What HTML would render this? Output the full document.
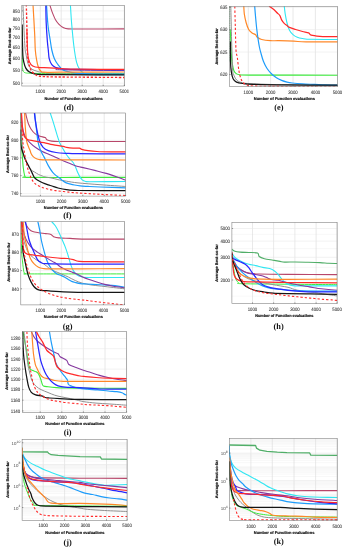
<!DOCTYPE html>
<html><head><meta charset="utf-8"><title>Convergence curves</title>
<style>
html,body{margin:0;padding:0;background:#fff;}
body{width:346px;height:550px;overflow:hidden;}
svg{display:block;}
text{text-rendering:geometricPrecision;}
.t{font-family:"Liberation Sans",Arial,sans-serif;font-size:4.9px;fill:#3a3a3a;stroke:#3a3a3a;stroke-width:0.08px;}
.s{font-family:"Liberation Sans",Arial,sans-serif;font-size:3.4px;fill:#444;}
.t2{font-family:"Liberation Sans",Arial,sans-serif;font-size:4.4px;fill:#444;}
.l{font-family:"Liberation Sans",Arial,sans-serif;font-size:3.95px;font-weight:bold;fill:#111;stroke:#111;stroke-width:0.16px;}
.cap{font-family:"Liberation Serif","DejaVu Serif",serif;font-size:8.3px;font-weight:bold;fill:#111;}
</style></head><body>
<svg width="346" height="550" viewBox="0 0 346 550">
<rect width="346" height="550" fill="#fff"/>
<clipPath id="cd"><rect x="21.8" y="5.5" width="102.5" height="80.5"/></clipPath>
<rect x="21.8" y="5.5" width="102.5" height="80.5" fill="#fff"/>
<line x1="40.30" x2="40.30" y1="5.5" y2="86" stroke="#d6d6d6" stroke-width="0.55"/>
<line x1="61.20" x2="61.20" y1="5.5" y2="86" stroke="#d6d6d6" stroke-width="0.55"/>
<line x1="82.20" x2="82.20" y1="5.5" y2="86" stroke="#d6d6d6" stroke-width="0.55"/>
<line x1="103.20" x2="103.20" y1="5.5" y2="86" stroke="#d6d6d6" stroke-width="0.55"/>
<line x1="124.30" x2="124.30" y1="5.5" y2="86" stroke="#d6d6d6" stroke-width="0.55"/>
<line x1="21.8" x2="124.3" y1="10.90" y2="10.90" stroke="#e8e8e8" stroke-width="0.55"/>
<line x1="21.8" x2="124.3" y1="19.00" y2="19.00" stroke="#e8e8e8" stroke-width="0.55"/>
<line x1="21.8" x2="124.3" y1="27.80" y2="27.80" stroke="#e8e8e8" stroke-width="0.55"/>
<line x1="21.8" x2="124.3" y1="37.10" y2="37.10" stroke="#e8e8e8" stroke-width="0.55"/>
<line x1="21.8" x2="124.3" y1="47.30" y2="47.30" stroke="#e8e8e8" stroke-width="0.55"/>
<line x1="21.8" x2="124.3" y1="58.40" y2="58.40" stroke="#e8e8e8" stroke-width="0.55"/>
<line x1="21.8" x2="124.3" y1="70.30" y2="70.30" stroke="#e8e8e8" stroke-width="0.55"/>
<line x1="21.8" x2="124.3" y1="83.20" y2="83.20" stroke="#e8e8e8" stroke-width="0.55"/>
<g clip-path="url(#cd)" fill="none" stroke-linejoin="round" stroke-linecap="round">
<path d="M22.20 28.00 C22.22 33.12 22.24 53.60 22.30 60.00 C22.36 66.40 22.42 66.16 22.60 68.00 C22.78 69.84 23.02 70.76 23.40 71.50 C23.78 72.24 23.94 72.33 25.00 72.60 C26.06 72.87 24.40 73.04 30.00 73.20 C35.60 73.36 44.91 73.54 60.00 73.60 C75.09 73.66 114.01 73.60 124.30 73.60" stroke="#3CEA3C" stroke-width="1.0"/>
<path d="M23.00 5.50 C23.13 8.62 23.48 18.20 23.80 25.00 C24.12 31.80 24.60 43.04 25.00 48.00 C25.40 52.96 25.90 53.79 26.30 56.00 C26.70 58.21 27.04 60.14 27.50 61.80 C27.96 63.46 28.46 65.20 29.20 66.40 C29.94 67.60 30.98 68.56 32.10 69.30 C33.22 70.04 34.81 70.54 36.20 71.00 C37.59 71.46 38.59 71.82 40.80 72.20 C43.01 72.58 46.93 73.11 50.00 73.40 C53.07 73.69 48.11 73.87 60.00 74.00 C71.89 74.13 114.01 74.17 124.30 74.20" stroke="#909090" stroke-width="1.0"/>
<path d="M49.70 4.60 C50.07 5.72 51.07 9.18 52.00 11.60 C52.93 14.02 54.38 17.67 55.50 19.70 C56.62 21.73 57.70 23.02 59.00 24.30 C60.30 25.58 62.13 26.96 63.60 27.70 C65.07 28.44 65.58 28.69 68.20 28.90 C70.82 29.11 71.02 29.00 80.00 29.00 C88.98 29.00 117.21 28.92 124.30 28.90" stroke="#B8466A" stroke-width="1.1"/>
<path d="M70.40 4.60 C70.59 7.56 71.04 16.44 71.60 23.10 C72.16 29.76 73.10 39.91 73.90 46.20 C74.70 52.49 75.67 58.69 76.60 62.40 C77.53 66.11 78.66 67.74 79.70 69.40 C80.74 71.06 81.82 72.02 83.10 72.80 C84.38 73.58 85.00 74.01 87.70 74.30 C90.40 74.59 94.14 74.55 100.00 74.60 C105.86 74.65 120.41 74.60 124.30 74.60" stroke="#30E6F2" stroke-width="1.1"/>
<path d="M56.00 69.60 C59.84 69.70 69.07 70.04 80.00 70.20 C90.93 70.36 117.21 70.54 124.30 70.60" stroke="#85389E" stroke-width="1.0"/>
<path d="M46.50 4.60 C46.66 7.06 47.18 16.02 47.50 20.00 C47.82 23.98 48.07 26.30 48.50 29.50 C48.93 32.70 49.67 36.72 50.20 40.00 C50.73 43.28 51.13 47.01 51.80 50.00 C52.47 52.99 53.30 56.20 54.40 58.70 C55.50 61.20 57.32 63.81 58.70 65.60 C60.08 67.39 61.19 68.84 63.00 69.90 C64.81 70.96 67.60 71.64 70.00 72.20 C72.40 72.76 74.00 73.11 78.00 73.40 C82.00 73.69 87.59 73.87 95.00 74.00 C102.41 74.13 119.61 74.17 124.30 74.20" stroke="#1E9CFA" stroke-width="1.2"/>
<path d="M45.80 4.60 C45.86 7.54 45.94 17.08 46.20 23.00 C46.46 28.92 47.06 37.28 47.40 41.60 C47.74 45.92 48.01 47.26 48.30 50.00 C48.59 52.74 48.64 56.35 49.20 58.70 C49.76 61.05 50.82 63.32 51.80 64.70 C52.78 66.08 53.78 66.66 55.30 67.30 C56.82 67.94 58.15 68.36 61.30 68.70 C64.45 69.04 64.92 69.22 75.00 69.40 C85.08 69.58 116.41 69.74 124.30 69.80" stroke="#2828FF" stroke-width="1.25"/>
<path d="M33.00 4.60 C33.27 9.42 34.33 27.44 34.70 34.70 C35.07 41.96 34.98 45.89 35.30 50.00 C35.62 54.11 36.20 57.63 36.70 60.40 C37.20 63.17 37.79 65.64 38.40 67.30 C39.01 68.96 39.60 70.02 40.50 70.80 C41.40 71.58 40.88 71.98 44.00 72.20 C47.12 72.42 47.15 72.23 60.00 72.20 C72.85 72.17 114.01 72.03 124.30 72.00" stroke="#FF8828" stroke-width="1.2"/>
<path d="M26.90 30.00 C27.00 33.20 27.26 45.41 27.50 50.00 C27.74 54.59 27.84 56.35 28.40 58.70 C28.96 61.05 29.90 63.37 31.00 64.70 C32.10 66.03 33.22 66.52 35.30 67.00 C37.38 67.48 39.84 67.43 44.00 67.70 C48.16 67.97 55.86 68.46 61.30 68.70 C66.74 68.94 67.92 69.09 78.00 69.20 C88.08 69.31 116.89 69.37 124.30 69.40" stroke="#FF2A2A" stroke-width="1.25"/>
<path d="M22.20 25.00 C22.23 27.40 22.29 35.04 22.40 40.00 C22.51 44.96 22.64 52.34 22.90 56.00 C23.16 59.66 23.54 60.96 24.00 62.90 C24.46 64.84 25.05 66.71 25.80 68.10 C26.55 69.49 27.60 70.77 28.70 71.60 C29.80 72.43 31.13 72.87 32.70 73.30 C34.27 73.73 34.13 74.08 38.50 74.30 C42.87 74.52 46.27 74.60 60.00 74.70 C73.73 74.80 114.01 74.87 124.30 74.90" stroke="#141414" stroke-width="1.25"/>
<path d="M26.30 4.60 C26.40 8.30 26.74 20.44 26.90 27.70 C27.06 34.96 27.09 44.77 27.30 50.00 C27.51 55.23 27.83 57.76 28.20 60.40 C28.57 63.04 29.06 64.80 29.60 66.50 C30.14 68.20 30.74 69.72 31.60 71.00 C32.46 72.28 33.90 73.72 35.00 74.50 C36.10 75.28 37.20 75.56 38.50 75.90 C39.80 76.24 39.66 76.42 43.10 76.60 C46.54 76.78 47.01 76.86 60.00 77.00 C72.99 77.14 114.01 77.42 124.30 77.50" stroke="#FF2A2A" stroke-width="1.35" stroke-dasharray="2.3 1.7" stroke-linecap="butt"/>
</g>
<rect x="21.8" y="5.5" width="102.5" height="80.5" fill="none" stroke="#777" stroke-width="0.55"/>
<line x1="40.30" x2="40.30" y1="86" y2="84.8" stroke="#444" stroke-width="0.5"/>
<text x="35.54" y="93.25" class="t" textLength="9.52" lengthAdjust="spacingAndGlyphs">1000</text>
<line x1="61.20" x2="61.20" y1="86" y2="84.8" stroke="#444" stroke-width="0.5"/>
<text x="56.44" y="93.25" class="t" textLength="9.52" lengthAdjust="spacingAndGlyphs">2000</text>
<line x1="82.20" x2="82.20" y1="86" y2="84.8" stroke="#444" stroke-width="0.5"/>
<text x="77.44" y="93.25" class="t" textLength="9.52" lengthAdjust="spacingAndGlyphs">3000</text>
<line x1="103.20" x2="103.20" y1="86" y2="84.8" stroke="#444" stroke-width="0.5"/>
<text x="98.44" y="93.25" class="t" textLength="9.52" lengthAdjust="spacingAndGlyphs">4000</text>
<line x1="124.30" x2="124.30" y1="86" y2="84.8" stroke="#444" stroke-width="0.5"/>
<text x="119.54" y="93.25" class="t" textLength="9.52" lengthAdjust="spacingAndGlyphs">5000</text>
<line x1="21.8" x2="23.0" y1="10.90" y2="10.90" stroke="#444" stroke-width="0.5"/>
<text x="12.66" y="12.65" class="t" textLength="7.14" lengthAdjust="spacingAndGlyphs">850</text>
<line x1="21.8" x2="23.0" y1="19.00" y2="19.00" stroke="#444" stroke-width="0.5"/>
<text x="12.66" y="20.75" class="t" textLength="7.14" lengthAdjust="spacingAndGlyphs">800</text>
<line x1="21.8" x2="23.0" y1="27.80" y2="27.80" stroke="#444" stroke-width="0.5"/>
<text x="12.66" y="29.55" class="t" textLength="7.14" lengthAdjust="spacingAndGlyphs">750</text>
<line x1="21.8" x2="23.0" y1="37.10" y2="37.10" stroke="#444" stroke-width="0.5"/>
<text x="12.66" y="38.85" class="t" textLength="7.14" lengthAdjust="spacingAndGlyphs">700</text>
<line x1="21.8" x2="23.0" y1="47.30" y2="47.30" stroke="#444" stroke-width="0.5"/>
<text x="12.66" y="49.05" class="t" textLength="7.14" lengthAdjust="spacingAndGlyphs">650</text>
<line x1="21.8" x2="23.0" y1="58.40" y2="58.40" stroke="#444" stroke-width="0.5"/>
<text x="12.66" y="60.15" class="t" textLength="7.14" lengthAdjust="spacingAndGlyphs">600</text>
<line x1="21.8" x2="23.0" y1="70.30" y2="70.30" stroke="#444" stroke-width="0.5"/>
<text x="12.66" y="72.05" class="t" textLength="7.14" lengthAdjust="spacingAndGlyphs">550</text>
<line x1="21.8" x2="23.0" y1="83.20" y2="83.20" stroke="#444" stroke-width="0.5"/>
<text x="12.66" y="84.95" class="t" textLength="7.14" lengthAdjust="spacingAndGlyphs">500</text>
<text transform="translate(11.00 64.25) rotate(-90)" class="l" textLength="36.7" lengthAdjust="spacingAndGlyphs">Average Best-so-far</text>
<text x="44.45" y="99.85" class="l" textLength="58.3" lengthAdjust="spacingAndGlyphs">Number of Function evaluations</text>
<rect x="128.6" y="87.5" width="8" height="8" fill="#fff"/>
<text x="68.70" y="109.70" class="cap" text-anchor="middle">(d)</text>
<clipPath id="ce"><rect x="229.4" y="6.3" width="108.1" height="80.3"/></clipPath>
<rect x="229.4" y="6.3" width="108.1" height="80.3" fill="#fff"/>
<line x1="248.30" x2="248.30" y1="6.3" y2="86.6" stroke="#d6d6d6" stroke-width="0.55"/>
<line x1="270.60" x2="270.60" y1="6.3" y2="86.6" stroke="#d6d6d6" stroke-width="0.55"/>
<line x1="293.00" x2="293.00" y1="6.3" y2="86.6" stroke="#d6d6d6" stroke-width="0.55"/>
<line x1="315.40" x2="315.40" y1="6.3" y2="86.6" stroke="#d6d6d6" stroke-width="0.55"/>
<line x1="337.50" x2="337.50" y1="6.3" y2="86.6" stroke="#d6d6d6" stroke-width="0.55"/>
<line x1="229.4" x2="337.5" y1="7.40" y2="7.40" stroke="#e8e8e8" stroke-width="0.55"/>
<line x1="229.4" x2="337.5" y1="29.60" y2="29.60" stroke="#e8e8e8" stroke-width="0.55"/>
<line x1="229.4" x2="337.5" y1="52.00" y2="52.00" stroke="#e8e8e8" stroke-width="0.55"/>
<line x1="229.4" x2="337.5" y1="74.50" y2="74.50" stroke="#e8e8e8" stroke-width="0.55"/>
<g clip-path="url(#ce)" fill="none" stroke-linejoin="round" stroke-linecap="round">
<path d="M229.70 6.40 L229.80 62.00" stroke="#50AE68" stroke-width="0.9" stroke-dasharray="1.5 0.8" stroke-linecap="butt"/>
<path d="M230.30 30.00 C230.40 32.24 230.69 39.52 230.90 44.00 C231.11 48.48 231.34 54.66 231.60 58.00 C231.86 61.34 232.13 62.87 232.50 64.90 C232.87 66.93 233.31 69.31 233.90 70.70 C234.49 72.09 235.27 72.94 236.20 73.60 C237.13 74.26 237.49 74.56 239.70 74.80 C241.91 75.04 234.35 75.04 250.00 75.10 C265.65 75.16 323.50 75.18 337.50 75.20" stroke="#3CEA3C" stroke-width="1.1"/>
<path d="M230.80 6.40 C230.93 11.78 231.36 31.22 231.60 40.00 C231.84 48.78 232.11 56.20 232.30 61.30 C232.49 66.40 232.54 69.66 232.80 71.90 C233.06 74.14 233.44 74.20 233.90 75.30 C234.36 76.40 235.04 77.87 235.70 78.80 C236.36 79.73 236.99 80.49 238.00 81.10 C239.01 81.71 240.08 82.20 242.00 82.60 C243.92 83.00 242.80 83.23 250.00 83.60 C257.20 83.97 273.00 84.63 287.00 84.90 C301.00 85.17 329.42 85.24 337.50 85.30" stroke="#909090" stroke-width="1.0"/>
<path d="M284.30 6.40 C284.44 7.60 284.78 11.32 285.20 13.90 C285.62 16.48 286.21 19.88 286.90 22.50 C287.59 25.12 288.52 28.35 289.50 30.30 C290.48 32.25 291.75 33.58 293.00 34.70 C294.25 35.82 295.78 36.69 297.30 37.30 C298.82 37.91 300.28 38.18 302.50 38.50 C304.72 38.82 305.60 39.14 311.20 39.30 C316.80 39.46 333.29 39.47 337.50 39.50" stroke="#30E6F2" stroke-width="1.1"/>
<path d="M243.80 6.40 C243.88 7.60 243.93 11.32 244.30 13.90 C244.67 16.48 245.40 20.00 246.10 22.50 C246.80 25.00 247.74 27.84 248.70 29.50 C249.66 31.16 251.00 32.07 252.10 32.90 C253.20 33.73 254.77 34.00 255.60 34.70 C256.43 35.40 256.32 36.53 257.30 37.30 C258.28 38.07 259.62 38.96 261.70 39.50 C263.78 40.04 267.53 40.51 270.30 40.70 C273.07 40.89 275.22 40.62 279.00 40.70 C282.78 40.78 289.58 41.01 293.90 41.20 C298.22 41.39 299.02 41.79 306.00 41.90 C312.98 42.01 332.46 41.90 337.50 41.90" stroke="#FF8828" stroke-width="1.2"/>
<path d="M254.70 6.40 C254.84 8.14 255.26 13.60 255.60 17.30 C255.94 21.00 256.38 25.88 256.80 29.50 C257.22 33.12 257.78 37.10 258.20 39.90 C258.62 42.70 258.98 44.95 259.40 47.00 C259.82 49.05 260.16 50.41 260.80 52.70 C261.44 54.99 262.42 58.80 263.40 61.30 C264.38 63.80 265.65 66.35 266.90 68.30 C268.15 70.25 269.68 71.98 271.20 73.50 C272.72 75.02 274.74 76.70 276.40 77.80 C278.06 78.90 279.90 79.71 281.60 80.40 C283.30 81.09 285.32 81.68 287.00 82.10 C288.68 82.52 289.62 82.71 292.10 83.00 C294.58 83.29 298.88 83.68 302.50 83.90 C306.12 84.12 311.10 84.24 314.70 84.40 C318.30 84.56 321.35 84.79 325.00 84.90 C328.65 85.01 335.50 85.07 337.50 85.10" stroke="#1E9CFA" stroke-width="1.2"/>
<path d="M269.50 6.40 C270.19 6.90 272.55 8.44 273.80 9.50 C275.05 10.56 276.32 12.02 277.30 13.00 C278.28 13.98 279.21 14.50 279.90 15.60 C280.59 16.70 280.91 18.65 281.60 19.90 C282.29 21.15 283.34 22.49 284.20 23.40 C285.06 24.31 286.15 24.96 287.00 25.60 C287.85 26.24 288.12 26.78 289.50 27.40 C290.88 28.02 293.52 28.84 295.60 29.50 C297.68 30.16 300.42 30.96 302.50 31.50 C304.58 32.04 307.21 32.31 308.60 32.90 C309.99 33.49 309.39 34.64 311.20 35.20 C313.01 35.76 317.13 36.16 319.90 36.40 C322.67 36.64 325.68 36.65 328.50 36.70 C331.32 36.75 336.06 36.70 337.50 36.70" stroke="#FF2A2A" stroke-width="1.25"/>
<path d="M230.40 42.00 C230.42 45.09 230.36 56.55 230.50 61.30 C230.64 66.05 230.88 68.92 231.30 71.70 C231.72 74.48 232.27 77.04 233.10 78.70 C233.93 80.36 234.98 81.33 236.50 82.10 C238.02 82.87 239.96 83.15 242.60 83.50 C245.24 83.85 245.90 84.08 253.00 84.30 C260.10 84.52 273.48 84.77 287.00 84.90 C300.52 85.03 329.42 85.07 337.50 85.10" stroke="#141414" stroke-width="1.25"/>
<path d="M234.80 6.40 C234.88 9.54 235.11 19.04 235.30 26.00 C235.49 32.96 235.66 44.80 236.00 49.90 C236.34 55.00 236.95 54.68 237.40 57.90 C237.85 61.12 238.24 66.67 238.80 70.00 C239.36 73.33 240.15 76.62 240.90 78.70 C241.65 80.78 242.54 82.01 243.50 83.00 C244.46 83.99 245.38 84.42 246.90 84.90 C248.42 85.38 246.58 85.74 253.00 86.00 C259.42 86.26 273.48 86.37 287.00 86.50 C300.52 86.63 329.42 86.75 337.50 86.80" stroke="#FF2A2A" stroke-width="1.1" stroke-dasharray="2.3 2.0" stroke-linecap="butt"/>
</g>
<rect x="229.4" y="6.3" width="108.1" height="80.3" fill="none" stroke="#777" stroke-width="0.55"/>
<line x1="248.30" x2="248.30" y1="86.6" y2="85.39999999999999" stroke="#444" stroke-width="0.5"/>
<text x="243.54" y="94.15" class="t" textLength="9.52" lengthAdjust="spacingAndGlyphs">1000</text>
<line x1="270.60" x2="270.60" y1="86.6" y2="85.39999999999999" stroke="#444" stroke-width="0.5"/>
<text x="265.84" y="94.15" class="t" textLength="9.52" lengthAdjust="spacingAndGlyphs">2000</text>
<line x1="293.00" x2="293.00" y1="86.6" y2="85.39999999999999" stroke="#444" stroke-width="0.5"/>
<text x="288.24" y="94.15" class="t" textLength="9.52" lengthAdjust="spacingAndGlyphs">3000</text>
<line x1="315.40" x2="315.40" y1="86.6" y2="85.39999999999999" stroke="#444" stroke-width="0.5"/>
<text x="310.64" y="94.15" class="t" textLength="9.52" lengthAdjust="spacingAndGlyphs">4000</text>
<line x1="337.50" x2="337.50" y1="86.6" y2="85.39999999999999" stroke="#444" stroke-width="0.5"/>
<text x="332.74" y="94.15" class="t" textLength="9.52" lengthAdjust="spacingAndGlyphs">5000</text>
<line x1="229.4" x2="230.6" y1="7.40" y2="7.40" stroke="#444" stroke-width="0.5"/>
<text x="220.26" y="9.15" class="t" textLength="7.14" lengthAdjust="spacingAndGlyphs">635</text>
<line x1="229.4" x2="230.6" y1="29.60" y2="29.60" stroke="#444" stroke-width="0.5"/>
<text x="220.26" y="31.35" class="t" textLength="7.14" lengthAdjust="spacingAndGlyphs">630</text>
<line x1="229.4" x2="230.6" y1="52.00" y2="52.00" stroke="#444" stroke-width="0.5"/>
<text x="220.26" y="53.75" class="t" textLength="7.14" lengthAdjust="spacingAndGlyphs">625</text>
<line x1="229.4" x2="230.6" y1="74.50" y2="74.50" stroke="#444" stroke-width="0.5"/>
<text x="220.26" y="76.25" class="t" textLength="7.14" lengthAdjust="spacingAndGlyphs">620</text>
<text transform="translate(217.90 64.60) rotate(-90)" class="l" textLength="36.4" lengthAdjust="spacingAndGlyphs">Average Best-so-far</text>
<text x="253.75" y="100.15" class="l" textLength="61.3" lengthAdjust="spacingAndGlyphs">Number of Function evaluations</text>
<text x="278.90" y="109.70" class="cap" text-anchor="middle">(e)</text>
<clipPath id="cf"><rect x="20.4" y="113" width="105.19999999999999" height="83.1"/></clipPath>
<rect x="20.4" y="113" width="105.19999999999999" height="83.1" fill="#fff"/>
<line x1="40.40" x2="40.40" y1="113" y2="196.1" stroke="#d6d6d6" stroke-width="0.55"/>
<line x1="61.60" x2="61.60" y1="113" y2="196.1" stroke="#d6d6d6" stroke-width="0.55"/>
<line x1="82.80" x2="82.80" y1="113" y2="196.1" stroke="#d6d6d6" stroke-width="0.55"/>
<line x1="104.20" x2="104.20" y1="113" y2="196.1" stroke="#d6d6d6" stroke-width="0.55"/>
<line x1="125.60" x2="125.60" y1="113" y2="196.1" stroke="#d6d6d6" stroke-width="0.55"/>
<line x1="20.4" x2="125.6" y1="122.30" y2="122.30" stroke="#e8e8e8" stroke-width="0.55"/>
<line x1="20.4" x2="125.6" y1="140.40" y2="140.40" stroke="#e8e8e8" stroke-width="0.55"/>
<line x1="20.4" x2="125.6" y1="157.90" y2="157.90" stroke="#e8e8e8" stroke-width="0.55"/>
<line x1="20.4" x2="125.6" y1="175.60" y2="175.60" stroke="#e8e8e8" stroke-width="0.55"/>
<line x1="20.4" x2="125.6" y1="193.60" y2="193.60" stroke="#e8e8e8" stroke-width="0.55"/>
<g clip-path="url(#cf)" fill="none" stroke-linejoin="round" stroke-linecap="round">
<path d="M20.70 112.60 C20.78 116.98 21.02 134.02 21.20 140.00 C21.38 145.98 21.58 146.80 21.80 150.00 C22.02 153.20 22.36 157.12 22.60 160.00 C22.84 162.88 23.00 165.60 23.30 168.00 C23.60 170.40 24.18 173.59 24.50 175.00 C24.82 176.41 24.93 176.42 25.30 176.80 C25.67 177.18 18.37 177.30 26.80 177.40 C35.23 177.50 62.14 177.40 78.00 177.40 C93.86 177.40 118.24 177.40 125.90 177.40" stroke="#3CEA3C" stroke-width="1.1"/>
<path d="M21.00 112.60 C21.16 116.98 21.58 133.18 22.00 140.00 C22.42 146.82 22.77 151.38 23.60 155.20 C24.43 159.02 26.10 161.63 27.20 163.90 C28.30 166.17 29.33 168.10 30.50 169.40 C31.67 170.70 33.20 171.18 34.50 172.00 C35.80 172.82 37.30 173.84 38.60 174.50 C39.90 175.16 41.58 175.72 42.60 176.10 C43.62 176.48 43.50 176.58 45.00 176.90 C46.50 177.22 49.94 177.67 52.00 178.10 C54.06 178.53 55.58 179.10 57.90 179.60 C60.22 180.10 63.28 180.67 66.50 181.20 C69.72 181.73 72.64 182.34 78.00 182.90 C83.36 183.46 92.34 184.12 100.00 184.70 C107.66 185.28 121.76 186.21 125.90 186.50" stroke="#909090" stroke-width="1.0"/>
<path d="M25.50 112.60 C25.69 113.45 26.24 116.12 26.70 117.90 C27.16 119.68 27.66 121.84 28.40 123.70 C29.14 125.56 30.20 127.87 31.30 129.50 C32.40 131.13 33.91 132.83 35.30 133.90 C36.69 134.97 38.42 135.61 40.00 136.20 C41.58 136.79 44.10 137.02 45.20 137.60 C46.30 138.18 45.89 139.24 46.90 139.80 C47.91 140.36 49.74 140.83 51.50 141.10 C53.26 141.37 53.66 141.44 57.90 141.50 C62.14 141.56 67.12 141.50 78.00 141.50 C88.88 141.50 118.24 141.50 125.90 141.50" stroke="#B8466A" stroke-width="1.1"/>
<path d="M50.10 112.60 C50.52 113.85 51.87 117.78 52.70 120.40 C53.53 123.02 54.47 126.23 55.30 129.00 C56.13 131.77 57.21 135.54 57.90 137.70 C58.59 139.86 59.07 141.20 59.60 142.50 C60.13 143.80 60.56 144.62 61.20 145.80 C61.84 146.98 62.75 148.48 63.60 149.90 C64.45 151.32 65.52 153.28 66.50 154.70 C67.48 156.12 68.61 157.50 69.70 158.80 C70.79 160.10 72.39 161.52 73.30 162.80 C74.21 164.08 74.74 165.38 75.40 166.80 C76.06 168.22 76.70 170.13 77.40 171.70 C78.10 173.27 79.03 175.30 79.80 176.60 C80.57 177.90 81.35 179.05 82.20 179.80 C83.05 180.55 83.85 181.00 85.10 181.30 C86.35 181.60 83.47 181.67 90.00 181.70 C96.53 181.73 120.16 181.53 125.90 181.50" stroke="#30E6F2" stroke-width="1.1"/>
<path d="M21.40 112.60 C21.46 113.85 21.51 117.49 21.80 120.40 C22.09 123.31 22.56 128.03 23.20 130.80 C23.84 133.57 24.70 135.76 25.80 137.70 C26.90 139.64 28.58 141.36 30.10 142.90 C31.62 144.44 33.35 145.91 35.30 147.30 C37.25 148.69 40.08 150.45 42.30 151.60 C44.52 152.75 46.99 153.56 49.20 154.50 C51.41 155.44 53.88 156.51 56.10 157.50 C58.32 158.49 60.88 159.74 63.10 160.70 C65.32 161.66 67.62 162.57 70.00 163.50 C72.38 164.43 75.90 165.84 78.00 166.50 C80.10 167.16 80.43 166.98 83.10 167.60 C85.77 168.22 91.00 169.47 94.70 170.40 C98.40 171.33 102.50 172.30 106.20 173.40 C109.90 174.50 114.65 176.20 117.80 177.30 C120.95 178.40 124.60 179.82 125.90 180.30" stroke="#85389E" stroke-width="1.1"/>
<path d="M34.60 112.60 C34.86 114.95 35.67 122.72 36.20 127.30 C36.73 131.88 37.34 137.87 37.90 141.20 C38.46 144.53 39.00 146.05 39.70 148.10 C40.40 150.15 41.61 152.59 42.30 154.00 C42.99 155.41 43.04 155.04 44.00 156.90 C44.96 158.76 46.91 163.14 48.30 165.60 C49.69 168.06 51.31 170.59 52.70 172.30 C54.09 174.01 55.83 175.36 57.00 176.30 C58.17 177.24 59.14 177.51 60.00 178.20 C60.86 178.89 61.49 179.90 62.40 180.60 C63.31 181.30 64.53 182.09 65.70 182.60 C66.87 183.11 68.28 183.42 69.70 183.80 C71.12 184.18 72.92 184.66 74.60 185.00 C76.28 185.34 78.06 185.68 80.20 185.90 C82.34 186.12 84.83 186.22 88.00 186.40 C91.17 186.58 93.94 186.76 100.00 187.00 C106.06 187.24 121.76 187.76 125.90 187.90" stroke="#1E9CFA" stroke-width="1.2"/>
<path d="M34.40 112.60 C34.54 113.85 34.87 117.49 35.30 120.40 C35.73 123.31 36.40 127.47 37.10 130.80 C37.80 134.13 38.74 138.56 39.70 141.20 C40.66 143.84 41.72 145.78 43.10 147.30 C44.48 148.82 46.22 149.87 48.30 150.70 C50.38 151.53 53.19 152.08 56.10 152.50 C59.01 152.92 63.00 153.11 66.50 153.30 C70.00 153.49 68.50 153.62 78.00 153.70 C87.50 153.78 118.24 153.78 125.90 153.80" stroke="#2828FF" stroke-width="1.25"/>
<path d="M24.60 112.60 C24.71 114.95 24.96 122.72 25.30 127.30 C25.64 131.88 26.17 138.05 26.70 141.20 C27.23 144.35 28.07 145.54 28.60 147.00 C29.13 148.46 29.58 149.21 30.00 150.30 C30.42 151.39 30.69 152.79 31.20 153.80 C31.71 154.81 32.35 155.80 33.20 156.60 C34.05 157.40 35.46 158.32 36.50 158.80 C37.54 159.28 38.18 159.42 39.70 159.60 C41.22 159.78 39.87 159.85 46.00 159.90 C52.13 159.95 65.22 159.88 78.00 159.90 C90.78 159.92 118.24 159.98 125.90 160.00" stroke="#FF8828" stroke-width="1.2"/>
<path d="M21.50 112.60 C21.63 114.95 21.88 123.56 22.30 127.30 C22.72 131.04 23.27 134.05 24.10 136.00 C24.93 137.95 25.98 138.73 27.50 139.50 C29.02 140.27 30.96 140.30 33.60 140.80 C36.24 141.30 40.94 141.98 44.00 142.60 C47.06 143.22 49.64 144.11 52.70 144.70 C55.76 145.29 60.89 145.87 63.10 146.30 C65.31 146.73 64.92 147.10 66.50 147.40 C68.08 147.70 70.94 148.07 73.00 148.20 C75.06 148.33 77.99 148.01 79.40 148.20 C80.81 148.39 80.42 149.02 81.80 149.40 C83.18 149.78 85.57 150.26 88.00 150.60 C90.43 150.94 93.34 151.29 97.00 151.50 C100.66 151.71 106.28 151.84 110.90 151.90 C115.52 151.96 123.50 151.90 125.90 151.90" stroke="#FF2A2A" stroke-width="1.25"/>
<path d="M20.60 130.00 C20.63 132.35 20.38 140.94 20.80 144.70 C21.22 148.46 22.40 150.99 23.20 153.50 C24.00 156.01 24.76 158.08 25.80 160.40 C26.84 162.72 28.69 166.00 29.70 168.00 C30.71 170.00 31.33 171.35 32.10 172.90 C32.87 174.45 33.59 176.52 34.50 177.70 C35.41 178.88 36.50 179.48 37.80 180.30 C39.10 181.12 40.92 182.06 42.60 182.80 C44.28 183.54 46.80 184.39 48.30 184.90 C49.80 185.41 50.45 185.50 52.00 186.00 C53.55 186.50 55.68 187.41 58.00 188.00 C60.32 188.59 63.30 189.30 66.50 189.70 C69.70 190.10 68.50 190.36 78.00 190.50 C87.50 190.64 118.24 190.58 125.90 190.60" stroke="#141414" stroke-width="1.25"/>
<path d="M21.80 125.00 C21.88 126.76 22.08 132.85 22.30 136.00 C22.52 139.15 22.91 142.46 23.20 144.70 C23.49 146.94 23.68 147.49 24.10 150.00 C24.52 152.51 25.11 157.07 25.80 160.40 C26.49 163.73 27.42 167.74 28.40 170.80 C29.38 173.86 30.80 177.42 31.90 179.50 C33.00 181.58 33.92 182.65 35.30 183.80 C36.68 184.95 38.55 185.87 40.50 186.70 C42.45 187.53 45.00 188.36 47.50 189.00 C50.00 189.64 53.06 190.24 56.10 190.70 C59.14 191.16 63.00 191.53 66.50 191.90 C70.00 192.27 72.64 192.62 78.00 193.00 C83.36 193.38 92.34 193.90 100.00 194.30 C107.66 194.70 121.76 195.31 125.90 195.50" stroke="#FF2A2A" stroke-width="1.1" stroke-dasharray="2.3 2.0" stroke-linecap="butt"/>
</g>
<rect x="20.4" y="113" width="105.19999999999999" height="83.1" fill="none" stroke="#777" stroke-width="0.55"/>
<line x1="40.40" x2="40.40" y1="196.1" y2="194.9" stroke="#444" stroke-width="0.5"/>
<text x="35.64" y="202.95" class="t" textLength="9.52" lengthAdjust="spacingAndGlyphs">1000</text>
<line x1="61.60" x2="61.60" y1="196.1" y2="194.9" stroke="#444" stroke-width="0.5"/>
<text x="56.84" y="202.95" class="t" textLength="9.52" lengthAdjust="spacingAndGlyphs">2000</text>
<line x1="82.80" x2="82.80" y1="196.1" y2="194.9" stroke="#444" stroke-width="0.5"/>
<text x="78.04" y="202.95" class="t" textLength="9.52" lengthAdjust="spacingAndGlyphs">3000</text>
<line x1="104.20" x2="104.20" y1="196.1" y2="194.9" stroke="#444" stroke-width="0.5"/>
<text x="99.44" y="202.95" class="t" textLength="9.52" lengthAdjust="spacingAndGlyphs">4000</text>
<line x1="125.60" x2="125.60" y1="196.1" y2="194.9" stroke="#444" stroke-width="0.5"/>
<text x="120.84" y="202.95" class="t" textLength="9.52" lengthAdjust="spacingAndGlyphs">5000</text>
<line x1="20.4" x2="21.599999999999998" y1="122.30" y2="122.30" stroke="#444" stroke-width="0.5"/>
<text x="11.26" y="124.05" class="t" textLength="7.14" lengthAdjust="spacingAndGlyphs">820</text>
<line x1="20.4" x2="21.599999999999998" y1="140.40" y2="140.40" stroke="#444" stroke-width="0.5"/>
<text x="11.26" y="142.15" class="t" textLength="7.14" lengthAdjust="spacingAndGlyphs">800</text>
<line x1="20.4" x2="21.599999999999998" y1="157.90" y2="157.90" stroke="#444" stroke-width="0.5"/>
<text x="11.26" y="159.65" class="t" textLength="7.14" lengthAdjust="spacingAndGlyphs">780</text>
<line x1="20.4" x2="21.599999999999998" y1="175.60" y2="175.60" stroke="#444" stroke-width="0.5"/>
<text x="11.26" y="177.35" class="t" textLength="7.14" lengthAdjust="spacingAndGlyphs">760</text>
<line x1="20.4" x2="21.599999999999998" y1="193.60" y2="193.60" stroke="#444" stroke-width="0.5"/>
<text x="11.26" y="195.35" class="t" textLength="7.14" lengthAdjust="spacingAndGlyphs">740</text>
<text transform="translate(9.40 173.05) rotate(-90)" class="l" textLength="38.1" lengthAdjust="spacingAndGlyphs">Average Best-so-far</text>
<text x="43.85" y="209.25" class="l" textLength="59.1" lengthAdjust="spacingAndGlyphs">Number of Function evaluations</text>
<text x="67.50" y="218.20" class="cap" text-anchor="middle">(f)</text>
<clipPath id="cg"><rect x="20.8" y="221.7" width="103.7" height="83.19999999999999"/></clipPath>
<rect x="20.8" y="221.7" width="103.7" height="83.19999999999999" fill="#fff"/>
<line x1="40.30" x2="40.30" y1="221.7" y2="304.9" stroke="#d6d6d6" stroke-width="0.55"/>
<line x1="61.30" x2="61.30" y1="221.7" y2="304.9" stroke="#d6d6d6" stroke-width="0.55"/>
<line x1="82.30" x2="82.30" y1="221.7" y2="304.9" stroke="#d6d6d6" stroke-width="0.55"/>
<line x1="103.40" x2="103.40" y1="221.7" y2="304.9" stroke="#d6d6d6" stroke-width="0.55"/>
<line x1="124.50" x2="124.50" y1="221.7" y2="304.9" stroke="#d6d6d6" stroke-width="0.55"/>
<line x1="20.8" x2="124.5" y1="233.80" y2="233.80" stroke="#e8e8e8" stroke-width="0.55"/>
<line x1="20.8" x2="124.5" y1="252.30" y2="252.30" stroke="#e8e8e8" stroke-width="0.55"/>
<line x1="20.8" x2="124.5" y1="270.60" y2="270.60" stroke="#e8e8e8" stroke-width="0.55"/>
<line x1="20.8" x2="124.5" y1="288.80" y2="288.80" stroke="#e8e8e8" stroke-width="0.55"/>
<g clip-path="url(#cg)" fill="none" stroke-linejoin="round" stroke-linecap="round">
<path d="M20.90 221.80 C21.01 226.31 21.33 243.57 21.60 250.00 C21.87 256.43 22.31 258.96 22.60 262.00 C22.89 265.04 23.18 267.35 23.40 269.00 C23.62 270.65 23.66 271.55 24.00 272.30 C24.34 273.05 24.86 273.44 25.50 273.70 C26.14 273.96 19.60 273.87 28.00 273.90 C36.40 273.93 62.56 273.90 78.00 273.90 C93.44 273.90 117.06 273.90 124.50 273.90" stroke="#3CEA3C" stroke-width="1.0"/>
<path d="M21.50 221.80 C21.74 224.07 22.46 232.45 23.00 236.00 C23.54 239.55 24.04 241.33 24.90 244.00 C25.76 246.67 27.01 250.48 28.40 252.70 C29.79 254.92 31.94 256.52 33.60 257.90 C35.26 259.28 37.14 260.31 38.80 261.30 C40.46 262.29 42.48 263.11 44.00 264.10 C45.52 265.09 46.91 266.49 48.30 267.50 C49.69 268.51 51.16 269.60 52.70 270.40 C54.24 271.20 56.24 271.81 57.90 272.50 C59.56 273.19 61.44 273.98 63.10 274.70 C64.76 275.42 66.36 276.07 68.30 277.00 C70.24 277.93 72.99 279.52 75.20 280.50 C77.41 281.48 79.60 282.40 82.10 283.10 C84.60 283.80 87.74 284.42 90.80 284.90 C93.86 285.38 97.60 285.68 101.20 286.10 C104.80 286.52 109.57 287.07 113.30 287.50 C117.03 287.93 122.71 288.59 124.50 288.80" stroke="#909090" stroke-width="1.0"/>
<path d="M24.90 221.80 C25.19 222.44 26.00 224.60 26.70 225.80 C27.40 227.00 28.34 228.39 29.30 229.30 C30.26 230.21 31.18 230.96 32.70 231.50 C34.22 232.04 36.72 232.36 38.80 232.70 C40.88 233.04 43.76 233.31 45.70 233.60 C47.64 233.89 49.51 233.94 50.90 234.50 C52.29 235.06 53.01 236.56 54.40 237.10 C55.79 237.64 57.10 237.69 59.60 237.90 C62.10 238.11 66.42 238.21 70.00 238.40 C73.58 238.59 73.28 238.99 82.00 239.10 C90.72 239.21 117.70 239.10 124.50 239.10" stroke="#B8466A" stroke-width="1.1"/>
<path d="M51.80 221.80 C52.36 222.44 54.20 224.18 55.30 225.80 C56.40 227.42 57.56 229.58 58.70 231.90 C59.84 234.22 61.36 237.90 62.40 240.30 C63.44 242.70 64.37 244.72 65.20 246.90 C66.03 249.08 66.94 251.85 67.60 253.90 C68.26 255.95 68.76 257.86 69.30 259.70 C69.84 261.54 70.36 263.66 71.00 265.40 C71.64 267.14 72.37 269.11 73.30 270.60 C74.23 272.09 75.50 273.71 76.80 274.70 C78.10 275.69 79.54 276.35 81.40 276.80 C83.26 277.25 81.50 277.39 88.40 277.50 C95.30 277.61 118.72 277.50 124.50 277.50" stroke="#30E6F2" stroke-width="1.1"/>
<path d="M37.90 221.80 C38.19 223.13 39.14 227.11 39.70 230.10 C40.26 233.09 40.71 237.17 41.40 240.50 C42.09 243.83 43.17 247.81 44.00 250.90 C44.83 253.99 45.77 257.48 46.60 259.80 C47.43 262.12 48.22 263.70 49.20 265.40 C50.18 267.10 51.45 269.04 52.70 270.40 C53.95 271.76 55.62 273.07 57.00 273.90 C58.38 274.73 60.05 275.06 61.30 275.60 C62.55 276.14 63.68 276.68 64.80 277.30 C65.92 277.92 67.20 278.84 68.30 279.50 C69.40 280.16 70.60 280.92 71.70 281.40 C72.80 281.88 73.81 282.15 75.20 282.50 C76.59 282.85 78.46 283.36 80.40 283.60 C82.34 283.84 84.80 283.86 87.30 284.00 C89.80 284.14 93.22 284.34 96.00 284.50 C98.78 284.66 101.64 284.81 104.70 285.00 C107.76 285.19 111.93 285.36 115.10 285.70 C118.27 286.04 123.00 286.88 124.50 287.10" stroke="#1E9CFA" stroke-width="1.2"/>
<path d="M22.30 221.80 C22.51 223.42 23.17 229.55 23.60 231.90 C24.03 234.25 24.55 235.20 25.00 236.50 C25.45 237.80 25.73 238.70 26.40 240.00 C27.07 241.30 28.19 243.21 29.20 244.60 C30.21 245.99 31.40 247.50 32.70 248.70 C34.00 249.90 35.81 251.09 37.30 252.10 C38.79 253.11 40.51 254.07 42.00 255.00 C43.49 255.93 44.94 256.88 46.60 257.90 C48.26 258.92 50.90 260.52 52.40 261.40 C53.90 262.28 54.69 262.50 56.00 263.40 C57.31 264.30 59.13 266.04 60.60 267.00 C62.07 267.96 63.54 268.63 65.20 269.40 C66.86 270.17 69.14 271.05 71.00 271.80 C72.86 272.55 74.94 273.27 76.80 274.10 C78.66 274.93 80.74 276.17 82.60 277.00 C84.46 277.83 86.26 278.53 88.40 279.30 C90.54 280.07 93.39 280.98 96.00 281.80 C98.61 282.62 101.93 283.68 104.70 284.40 C107.47 285.12 110.13 285.76 113.30 286.30 C116.47 286.84 122.71 287.56 124.50 287.80" stroke="#85389E" stroke-width="1.1"/>
<path d="M23.20 221.80 C23.38 223.96 23.79 231.65 24.30 235.30 C24.81 238.95 25.79 241.99 26.40 244.60 C27.01 247.21 27.46 249.38 28.10 251.60 C28.74 253.82 29.47 256.56 30.40 258.50 C31.33 260.44 32.60 262.31 33.90 263.70 C35.20 265.09 37.03 266.43 38.50 267.20 C39.97 267.97 41.26 268.23 43.10 268.50 C44.94 268.77 44.42 268.85 50.00 268.90 C55.58 268.95 66.08 268.83 78.00 268.80 C89.92 268.77 117.06 268.72 124.50 268.70" stroke="#FF8828" stroke-width="1.2"/>
<path d="M25.50 221.80 C25.77 223.21 26.64 227.77 27.20 230.60 C27.76 233.43 28.30 236.91 29.00 239.50 C29.70 242.09 30.75 244.64 31.60 246.80 C32.45 248.96 33.39 251.00 34.30 253.00 C35.21 255.00 36.26 257.80 37.30 259.30 C38.34 260.80 39.31 261.70 40.80 262.40 C42.29 263.10 40.65 263.41 46.60 263.70 C52.55 263.99 65.54 264.14 78.00 264.20 C90.46 264.26 117.06 264.12 124.50 264.10" stroke="#2828FF" stroke-width="1.25"/>
<path d="M21.60 221.80 C21.71 223.96 22.04 231.19 22.30 235.30 C22.56 239.41 22.78 244.72 23.20 247.50 C23.62 250.28 24.07 251.60 24.90 252.70 C25.73 253.80 26.74 253.98 28.40 254.40 C30.06 254.82 32.80 254.96 35.30 255.30 C37.80 255.64 41.22 256.15 44.00 256.50 C46.78 256.85 49.93 257.21 52.70 257.50 C55.47 257.79 58.92 258.14 61.30 258.30 C63.68 258.46 65.68 258.29 67.60 258.50 C69.52 258.71 71.46 259.15 73.30 259.60 C75.14 260.05 75.47 260.96 79.10 261.30 C82.73 261.64 88.74 261.60 96.00 261.70 C103.26 261.80 119.94 261.87 124.50 261.90" stroke="#FF2A2A" stroke-width="1.25"/>
<path d="M22.60 246.00 C22.70 247.07 22.86 250.46 23.20 252.70 C23.54 254.94 24.19 257.55 24.70 260.00 C25.21 262.45 25.86 265.62 26.40 268.00 C26.94 270.38 27.36 272.68 28.10 274.90 C28.84 277.12 30.07 280.04 31.00 281.90 C31.93 283.76 32.89 285.30 33.90 286.50 C34.91 287.70 36.20 288.79 37.30 289.40 C38.40 290.01 38.94 290.06 40.80 290.30 C42.66 290.54 45.83 290.69 48.90 290.90 C51.97 291.11 55.34 291.38 60.00 291.60 C64.66 291.82 67.68 292.17 78.00 292.30 C88.32 292.43 117.06 292.38 124.50 292.40" stroke="#141414" stroke-width="1.25"/>
<path d="M22.40 225.00 C22.48 227.40 22.72 236.13 22.90 240.00 C23.08 243.87 23.13 246.24 23.50 249.20 C23.87 252.16 24.66 255.91 25.20 258.50 C25.74 261.09 26.36 263.40 26.90 265.40 C27.44 267.40 27.94 269.10 28.60 271.00 C29.26 272.90 30.06 275.32 31.00 277.30 C31.94 279.28 33.25 281.74 34.50 283.40 C35.75 285.06 37.28 286.45 38.80 287.70 C40.32 288.95 42.06 290.14 44.00 291.20 C45.94 292.26 48.68 293.47 50.90 294.30 C53.12 295.13 55.40 295.79 57.90 296.40 C60.40 297.01 63.28 297.60 66.50 298.10 C69.72 298.60 74.67 299.12 78.00 299.50 C81.33 299.88 84.42 300.15 87.30 300.50 C90.18 300.85 93.22 301.35 96.00 301.70 C98.78 302.05 101.64 302.35 104.70 302.70 C107.76 303.05 111.93 303.53 115.10 303.90 C118.27 304.27 123.00 304.82 124.50 305.00" stroke="#FF2A2A" stroke-width="1.1" stroke-dasharray="2.3 2.0" stroke-linecap="butt"/>
</g>
<rect x="20.8" y="221.7" width="103.7" height="83.19999999999999" fill="none" stroke="#777" stroke-width="0.55"/>
<line x1="40.30" x2="40.30" y1="304.9" y2="303.7" stroke="#444" stroke-width="0.5"/>
<text x="35.54" y="312.05" class="t" textLength="9.52" lengthAdjust="spacingAndGlyphs">1000</text>
<line x1="61.30" x2="61.30" y1="304.9" y2="303.7" stroke="#444" stroke-width="0.5"/>
<text x="56.54" y="312.05" class="t" textLength="9.52" lengthAdjust="spacingAndGlyphs">2000</text>
<line x1="82.30" x2="82.30" y1="304.9" y2="303.7" stroke="#444" stroke-width="0.5"/>
<text x="77.54" y="312.05" class="t" textLength="9.52" lengthAdjust="spacingAndGlyphs">3000</text>
<line x1="103.40" x2="103.40" y1="304.9" y2="303.7" stroke="#444" stroke-width="0.5"/>
<text x="98.64" y="312.05" class="t" textLength="9.52" lengthAdjust="spacingAndGlyphs">4000</text>
<line x1="124.50" x2="124.50" y1="304.9" y2="303.7" stroke="#444" stroke-width="0.5"/>
<text x="119.74" y="312.05" class="t" textLength="9.52" lengthAdjust="spacingAndGlyphs">5000</text>
<line x1="20.8" x2="22.0" y1="233.80" y2="233.80" stroke="#444" stroke-width="0.5"/>
<text x="11.66" y="235.55" class="t" textLength="7.14" lengthAdjust="spacingAndGlyphs">870</text>
<line x1="20.8" x2="22.0" y1="252.30" y2="252.30" stroke="#444" stroke-width="0.5"/>
<text x="11.66" y="254.05" class="t" textLength="7.14" lengthAdjust="spacingAndGlyphs">860</text>
<line x1="20.8" x2="22.0" y1="270.60" y2="270.60" stroke="#444" stroke-width="0.5"/>
<text x="11.66" y="272.35" class="t" textLength="7.14" lengthAdjust="spacingAndGlyphs">850</text>
<line x1="20.8" x2="22.0" y1="288.80" y2="288.80" stroke="#444" stroke-width="0.5"/>
<text x="11.66" y="290.55" class="t" textLength="7.14" lengthAdjust="spacingAndGlyphs">840</text>
<text transform="translate(10.10 281.85) rotate(-90)" class="l" textLength="39.3" lengthAdjust="spacingAndGlyphs">Average Best-so-far</text>
<text x="43.75" y="318.35" class="l" textLength="59.1" lengthAdjust="spacingAndGlyphs">Number of Function evaluations</text>
<text x="67.70" y="328.50" class="cap" text-anchor="middle">(g)</text>
<clipPath id="ch"><rect x="231.9" y="222.3" width="105.20000000000002" height="81.30000000000001"/></clipPath>
<rect x="231.9" y="222.3" width="105.20000000000002" height="81.30000000000001" fill="#fff"/>
<line x1="231.9" x2="337.1" y1="296.16" y2="296.16" stroke="#ededed" stroke-width="0.4"/>
<line x1="231.9" x2="337.1" y1="267.45" y2="267.45" stroke="#ededed" stroke-width="0.4"/>
<line x1="231.9" x2="337.1" y1="248.55" y2="248.55" stroke="#ededed" stroke-width="0.4"/>
<line x1="231.9" x2="337.1" y1="234.42" y2="234.42" stroke="#ededed" stroke-width="0.4"/>
<line x1="252.50" x2="252.50" y1="222.3" y2="303.6" stroke="#d6d6d6" stroke-width="0.55"/>
<line x1="273.60" x2="273.60" y1="222.3" y2="303.6" stroke="#d6d6d6" stroke-width="0.55"/>
<line x1="294.90" x2="294.90" y1="222.3" y2="303.6" stroke="#d6d6d6" stroke-width="0.55"/>
<line x1="316.10" x2="316.10" y1="222.3" y2="303.6" stroke="#d6d6d6" stroke-width="0.55"/>
<line x1="337.10" x2="337.10" y1="222.3" y2="303.6" stroke="#d6d6d6" stroke-width="0.55"/>
<line x1="231.9" x2="337.1" y1="228.50" y2="228.50" stroke="#e8e8e8" stroke-width="0.55"/>
<line x1="231.9" x2="337.1" y1="241.10" y2="241.10" stroke="#e8e8e8" stroke-width="0.55"/>
<line x1="231.9" x2="337.1" y1="257.30" y2="257.30" stroke="#e8e8e8" stroke-width="0.55"/>
<line x1="231.9" x2="337.1" y1="280.00" y2="280.00" stroke="#e8e8e8" stroke-width="0.55"/>
<g clip-path="url(#ch)" fill="none" stroke-linejoin="round" stroke-linecap="round">
<path d="M232.30 256.00 C232.30 256.77 232.01 258.37 232.30 260.80 C232.59 263.23 233.54 268.29 234.10 271.20 C234.66 274.11 235.11 277.19 235.80 279.00 C236.49 280.81 237.42 281.75 238.40 282.50 C239.38 283.25 233.96 283.43 241.90 283.70 C249.84 283.97 272.77 284.04 288.00 284.20 C303.23 284.36 329.24 284.62 337.10 284.70" stroke="#3CEA3C" stroke-width="1.0"/>
<path d="M232.30 256.00 C232.44 257.04 232.22 260.07 233.20 262.50 C234.18 264.93 236.46 268.83 238.40 271.20 C240.34 273.57 242.80 275.78 245.30 277.30 C247.80 278.82 251.22 279.87 254.00 280.70 C256.78 281.53 259.64 281.86 262.70 282.50 C265.76 283.14 269.05 283.93 273.10 284.70 C277.15 285.47 284.13 286.42 288.00 287.30 C291.87 288.18 293.03 289.37 297.30 290.20 C301.57 291.03 309.71 291.78 314.70 292.50 C319.69 293.22 324.92 294.16 328.50 294.70 C332.08 295.24 335.72 295.71 337.10 295.90" stroke="#909090" stroke-width="1.0"/>
<path d="M231.90 249.30 C232.38 249.62 233.59 250.85 234.90 251.30 C236.21 251.75 237.88 251.91 240.10 252.10 C242.32 252.29 246.02 252.36 248.80 252.50 C251.58 252.64 255.84 252.36 257.50 253.00 C259.16 253.64 258.10 255.59 259.20 256.50 C260.30 257.41 262.19 258.11 264.40 258.70 C266.61 259.29 270.50 259.77 273.00 260.20 C275.50 260.63 278.16 261.10 280.00 261.40 C281.84 261.70 282.10 262.00 284.50 262.10 C286.90 262.20 291.56 261.98 295.00 262.00 C298.44 262.02 302.02 262.10 306.00 262.20 C309.98 262.30 316.30 262.44 319.90 262.60 C323.50 262.76 325.75 263.06 328.50 263.20 C331.25 263.34 335.72 263.45 337.10 263.50" stroke="#50AE68" stroke-width="1.1"/>
<path d="M232.10 254.00 C232.13 254.82 231.85 257.45 232.30 259.10 C232.75 260.75 233.92 262.78 234.90 264.30 C235.88 265.82 237.01 267.45 238.40 268.60 C239.79 269.75 241.66 270.75 243.60 271.50 C245.54 272.25 248.00 272.90 250.50 273.30 C253.00 273.70 253.20 273.82 259.20 274.00 C265.20 274.18 275.54 274.30 288.00 274.40 C300.46 274.50 329.24 274.57 337.10 274.60" stroke="#B8466A" stroke-width="1.1"/>
<path d="M232.10 252.00 C232.13 252.30 231.71 252.91 232.30 253.90 C232.89 254.89 234.26 256.95 235.80 258.20 C237.34 259.45 239.82 260.72 241.90 261.70 C243.98 262.68 246.59 263.68 248.80 264.30 C251.01 264.92 253.48 265.10 255.70 265.60 C257.92 266.10 260.48 266.92 262.70 267.40 C264.92 267.88 267.66 267.99 269.60 268.60 C271.54 269.21 273.41 270.22 274.80 271.20 C276.19 272.18 277.20 273.45 278.30 274.70 C279.40 275.95 280.60 277.75 281.70 279.00 C282.80 280.25 284.19 281.67 285.20 282.50 C286.21 283.33 286.91 283.72 288.00 284.20 C289.09 284.68 290.08 285.23 292.00 285.50 C293.92 285.77 292.78 285.84 300.00 285.90 C307.22 285.96 331.16 285.90 337.10 285.90" stroke="#30E6F2" stroke-width="1.1"/>
<path d="M232.20 256.00 C232.36 256.77 232.48 259.20 233.20 260.80 C233.92 262.40 235.31 264.48 236.70 266.00 C238.09 267.52 240.24 269.20 241.90 270.30 C243.56 271.40 245.16 272.26 247.10 272.90 C249.04 273.54 251.79 273.88 254.00 274.30 C256.21 274.72 258.96 275.02 260.90 275.50 C262.84 275.98 264.44 276.66 266.10 277.30 C267.76 277.94 269.35 279.02 271.30 279.50 C273.25 279.98 276.08 279.88 278.30 280.30 C280.52 280.72 282.99 281.54 285.20 282.10 C287.41 282.66 289.60 283.26 292.10 283.80 C294.60 284.34 298.02 285.00 300.80 285.50 C303.58 286.00 306.73 286.42 309.50 286.90 C312.27 287.38 315.06 288.08 318.10 288.50 C321.14 288.92 325.46 289.23 328.50 289.50 C331.54 289.77 335.72 290.09 337.10 290.20" stroke="#85389E" stroke-width="1.1"/>
<path d="M232.10 253.00 C232.13 253.69 231.56 255.22 232.30 257.30 C233.04 259.38 235.16 263.63 236.70 266.00 C238.24 268.37 240.24 270.44 241.90 272.10 C243.56 273.76 245.44 275.15 247.10 276.40 C248.76 277.65 250.64 278.80 252.30 279.90 C253.96 281.00 255.84 282.34 257.50 283.30 C259.16 284.26 261.04 285.20 262.70 285.90 C264.36 286.60 265.96 287.22 267.90 287.70 C269.84 288.18 271.58 288.52 274.80 288.90 C278.02 289.28 283.97 289.80 288.00 290.10 C292.03 290.40 292.14 290.62 300.00 290.80 C307.86 290.98 331.16 291.14 337.10 291.20" stroke="#1E9CFA" stroke-width="1.2"/>
<path d="M232.10 254.00 C232.13 254.53 231.71 256.36 232.30 257.30 C232.89 258.24 234.55 259.20 235.80 259.90 C237.05 260.60 238.58 261.00 240.10 261.70 C241.62 262.40 243.91 263.34 245.30 264.30 C246.69 265.26 247.68 266.32 248.80 267.70 C249.92 269.08 251.20 271.36 252.30 272.90 C253.40 274.44 254.60 275.91 255.70 277.30 C256.80 278.69 258.08 280.42 259.20 281.60 C260.32 282.78 261.31 283.87 262.70 284.70 C264.09 285.53 266.24 286.24 267.90 286.80 C269.56 287.36 271.16 287.82 273.10 288.20 C275.04 288.58 277.62 288.86 280.00 289.20 C282.38 289.54 284.80 289.96 288.00 290.30 C291.20 290.64 295.68 291.04 300.00 291.30 C304.32 291.56 309.06 291.80 315.00 291.90 C320.94 292.00 333.56 291.90 337.10 291.90" stroke="#2828FF" stroke-width="1.25"/>
<path d="M232.10 253.00 C232.13 253.69 231.85 255.22 232.30 257.30 C232.75 259.38 233.92 263.63 234.90 266.00 C235.88 268.37 237.15 270.58 238.40 272.10 C239.65 273.62 241.04 274.59 242.70 275.50 C244.36 276.41 246.72 277.27 248.80 277.80 C250.88 278.33 249.43 278.56 255.70 278.80 C261.97 279.04 274.98 279.25 288.00 279.30 C301.02 279.35 329.24 279.13 337.10 279.10" stroke="#FF8828" stroke-width="1.2"/>
<path d="M231.90 252.00 C231.90 252.58 231.74 253.36 231.90 255.60 C232.06 257.84 232.55 262.94 232.90 266.00 C233.25 269.06 233.49 272.62 234.10 274.70 C234.71 276.78 235.45 277.96 236.70 279.00 C237.95 280.04 239.69 280.74 241.90 281.20 C244.11 281.66 243.12 281.69 250.50 281.90 C257.88 282.11 274.14 282.36 288.00 282.50 C301.86 282.64 329.24 282.75 337.10 282.80" stroke="#FF2A2A" stroke-width="1.25"/>
<path d="M232.10 254.00 C232.13 254.82 231.98 257.50 232.30 259.10 C232.62 260.70 233.40 262.14 234.10 264.00 C234.80 265.86 235.74 268.25 236.70 270.70 C237.66 273.15 239.00 277.09 240.10 279.30 C241.20 281.51 242.21 283.11 243.60 284.50 C244.99 285.89 246.86 287.02 248.80 288.00 C250.74 288.98 253.20 289.96 255.70 290.60 C258.20 291.24 261.62 291.60 264.40 292.00 C267.18 292.40 269.32 292.84 273.10 293.10 C276.88 293.36 282.10 293.47 288.00 293.60 C293.90 293.73 302.14 293.77 310.00 293.90 C317.86 294.03 332.76 294.32 337.10 294.40" stroke="#141414" stroke-width="1.25"/>
<path d="M232.20 255.00 C232.22 255.66 231.87 257.66 232.30 259.10 C232.73 260.54 233.92 261.87 234.90 264.00 C235.88 266.13 237.15 269.66 238.40 272.40 C239.65 275.14 241.31 278.88 242.70 281.10 C244.09 283.32 245.56 284.92 247.10 286.30 C248.64 287.68 250.36 288.82 252.30 289.70 C254.24 290.58 256.99 291.24 259.20 291.80 C261.41 292.36 263.88 292.83 266.10 293.20 C268.32 293.57 270.88 293.84 273.10 294.10 C275.32 294.36 277.50 294.51 280.00 294.80 C282.50 295.09 285.93 295.58 288.70 295.90 C291.47 296.22 294.53 296.51 297.30 296.80 C300.07 297.09 303.22 297.43 306.00 297.70 C308.78 297.97 311.93 298.23 314.70 298.50 C317.47 298.77 320.53 299.18 323.30 299.40 C326.07 299.62 329.79 299.72 332.00 299.90 C334.21 300.08 336.28 300.40 337.10 300.50" stroke="#FF2A2A" stroke-width="1.1" stroke-dasharray="2.3 2.0" stroke-linecap="butt"/>
</g>
<rect x="231.9" y="222.3" width="105.20000000000002" height="81.30000000000001" fill="none" stroke="#777" stroke-width="0.55"/>
<line x1="252.50" x2="252.50" y1="303.6" y2="302.40000000000003" stroke="#444" stroke-width="0.5"/>
<text x="247.74" y="311.05" class="t" textLength="9.52" lengthAdjust="spacingAndGlyphs">1000</text>
<line x1="273.60" x2="273.60" y1="303.6" y2="302.40000000000003" stroke="#444" stroke-width="0.5"/>
<text x="268.84" y="311.05" class="t" textLength="9.52" lengthAdjust="spacingAndGlyphs">2000</text>
<line x1="294.90" x2="294.90" y1="303.6" y2="302.40000000000003" stroke="#444" stroke-width="0.5"/>
<text x="290.14" y="311.05" class="t" textLength="9.52" lengthAdjust="spacingAndGlyphs">3000</text>
<line x1="316.10" x2="316.10" y1="303.6" y2="302.40000000000003" stroke="#444" stroke-width="0.5"/>
<text x="311.34" y="311.05" class="t" textLength="9.52" lengthAdjust="spacingAndGlyphs">4000</text>
<line x1="337.10" x2="337.10" y1="303.6" y2="302.40000000000003" stroke="#444" stroke-width="0.5"/>
<text x="332.34" y="311.05" class="t" textLength="9.52" lengthAdjust="spacingAndGlyphs">5000</text>
<line x1="231.9" x2="233.1" y1="228.50" y2="228.50" stroke="#444" stroke-width="0.5"/>
<text x="220.38" y="230.25" class="t" textLength="9.52" lengthAdjust="spacingAndGlyphs">5000</text>
<line x1="231.9" x2="233.1" y1="241.10" y2="241.10" stroke="#444" stroke-width="0.5"/>
<text x="220.38" y="242.85" class="t" textLength="9.52" lengthAdjust="spacingAndGlyphs">4000</text>
<line x1="231.9" x2="233.1" y1="257.30" y2="257.30" stroke="#444" stroke-width="0.5"/>
<text x="220.38" y="259.05" class="t" textLength="9.52" lengthAdjust="spacingAndGlyphs">3000</text>
<line x1="231.9" x2="233.1" y1="280.00" y2="280.00" stroke="#444" stroke-width="0.5"/>
<text x="220.38" y="281.75" class="t" textLength="9.52" lengthAdjust="spacingAndGlyphs">2000</text>
<text transform="translate(217.90 281.80) rotate(-90)" class="l" textLength="37.6" lengthAdjust="spacingAndGlyphs">Average Best-so-far</text>
<text x="255.30" y="317.25" class="l" textLength="58.2" lengthAdjust="spacingAndGlyphs">Number of Function evaluations</text>
<text x="278.60" y="328.60" class="cap" text-anchor="middle">(h)</text>
<clipPath id="ci"><rect x="22.3" y="331.6" width="104.3" height="81.0"/></clipPath>
<rect x="22.3" y="331.6" width="104.3" height="81.0" fill="#fff"/>
<line x1="40.20" x2="40.20" y1="331.6" y2="412.6" stroke="#d6d6d6" stroke-width="0.55"/>
<line x1="61.80" x2="61.80" y1="331.6" y2="412.6" stroke="#d6d6d6" stroke-width="0.55"/>
<line x1="83.40" x2="83.40" y1="331.6" y2="412.6" stroke="#d6d6d6" stroke-width="0.55"/>
<line x1="105.00" x2="105.00" y1="331.6" y2="412.6" stroke="#d6d6d6" stroke-width="0.55"/>
<line x1="126.60" x2="126.60" y1="331.6" y2="412.6" stroke="#d6d6d6" stroke-width="0.55"/>
<line x1="22.3" x2="126.6" y1="338.50" y2="338.50" stroke="#e8e8e8" stroke-width="0.55"/>
<line x1="22.3" x2="126.6" y1="348.70" y2="348.70" stroke="#e8e8e8" stroke-width="0.55"/>
<line x1="22.3" x2="126.6" y1="358.90" y2="358.90" stroke="#e8e8e8" stroke-width="0.55"/>
<line x1="22.3" x2="126.6" y1="369.10" y2="369.10" stroke="#e8e8e8" stroke-width="0.55"/>
<line x1="22.3" x2="126.6" y1="379.30" y2="379.30" stroke="#e8e8e8" stroke-width="0.55"/>
<line x1="22.3" x2="126.6" y1="389.60" y2="389.60" stroke="#e8e8e8" stroke-width="0.55"/>
<line x1="22.3" x2="126.6" y1="400.20" y2="400.20" stroke="#e8e8e8" stroke-width="0.55"/>
<line x1="22.3" x2="126.6" y1="410.90" y2="410.90" stroke="#e8e8e8" stroke-width="0.55"/>
<g clip-path="url(#ci)" fill="none" stroke-linejoin="round" stroke-linecap="round">
<path d="M23.10 331.80 C23.37 333.42 24.26 338.99 24.80 341.90 C25.34 344.81 26.10 347.66 26.50 350.00 C26.90 352.34 26.98 354.29 27.30 356.50 C27.62 358.71 28.05 361.80 28.50 363.80 C28.95 365.80 29.40 367.91 30.10 369.00 C30.80 370.09 31.92 370.15 32.90 370.60 C33.88 371.05 35.35 371.34 36.20 371.80 C37.05 372.26 37.62 372.72 38.20 373.50 C38.78 374.28 39.35 375.68 39.80 376.70 C40.25 377.72 40.62 378.73 41.00 379.90 C41.38 381.07 41.80 383.02 42.20 384.00 C42.60 384.98 42.57 385.55 43.50 386.00 C44.43 386.45 45.94 386.54 48.00 386.80 C50.06 387.06 53.66 387.42 56.40 387.60 C59.14 387.78 61.32 387.82 65.10 387.90 C68.88 387.98 70.16 388.02 80.00 388.10 C89.84 388.18 119.14 388.35 126.60 388.40" stroke="#3CEA3C" stroke-width="1.1"/>
<path d="M24.00 331.80 C24.16 333.27 24.68 338.09 25.00 341.00 C25.32 343.91 25.68 347.28 26.00 350.00 C26.32 352.72 26.66 355.44 27.00 358.00 C27.34 360.56 27.73 363.92 28.10 366.00 C28.47 368.08 28.85 369.16 29.30 371.00 C29.75 372.84 30.32 375.68 30.90 377.50 C31.48 379.32 32.05 380.98 32.90 382.40 C33.75 383.82 34.90 385.25 36.20 386.40 C37.50 387.55 39.11 388.62 41.00 389.60 C42.89 390.58 45.81 391.60 48.00 392.50 C50.19 393.40 52.52 394.50 54.70 395.20 C56.88 395.90 59.10 396.36 61.60 396.90 C64.10 397.44 67.85 398.10 70.30 398.60 C72.75 399.10 74.72 399.50 76.90 400.00 C79.08 400.50 80.84 401.20 83.90 401.70 C86.96 402.20 91.84 402.73 96.00 403.10 C100.16 403.47 105.00 403.66 109.90 404.00 C114.80 404.34 123.93 405.01 126.60 405.20" stroke="#909090" stroke-width="1.0"/>
<path d="M31.30 331.80 C31.72 332.58 32.94 335.23 33.90 336.70 C34.86 338.17 36.05 339.75 37.30 341.00 C38.55 342.25 40.34 343.49 41.70 344.50 C43.06 345.51 43.99 346.18 45.80 347.30 C47.61 348.42 51.03 350.46 53.00 351.50 C54.97 352.54 56.95 352.97 58.10 353.80 C59.25 354.63 58.82 355.66 60.20 356.70 C61.58 357.74 65.31 359.05 66.70 360.30 C68.09 361.55 67.40 363.33 68.90 364.50 C70.40 365.67 73.78 366.67 76.10 367.60 C78.42 368.53 81.05 369.52 83.40 370.30 C85.75 371.08 88.22 371.68 90.80 372.50 C93.38 373.32 96.73 374.60 99.50 375.40 C102.27 376.20 105.33 376.89 108.10 377.50 C110.87 378.11 113.84 378.70 116.80 379.20 C119.76 379.70 125.03 380.38 126.60 380.60" stroke="#85389E" stroke-width="1.1"/>
<path d="M49.50 331.80 C49.77 333.42 50.51 338.35 51.20 341.90 C51.89 345.45 53.05 350.59 53.80 354.00 C54.55 357.41 54.88 360.56 55.90 363.20 C56.92 365.84 58.81 368.42 60.20 370.50 C61.59 372.58 63.46 374.71 64.60 376.20 C65.74 377.69 66.68 378.47 67.30 379.80 C67.92 381.13 67.75 383.48 68.50 384.50 C69.25 385.52 70.37 385.61 72.00 386.20 C73.63 386.79 76.25 387.72 78.70 388.20 C81.15 388.68 84.26 388.93 87.30 389.20 C90.34 389.47 94.37 389.61 97.70 389.90 C101.03 390.19 105.04 390.71 108.10 391.00 C111.16 391.29 114.58 391.43 116.80 391.70 C119.02 391.97 120.75 392.27 122.00 392.70 C123.25 393.13 123.86 394.02 124.60 394.40 C125.34 394.78 126.28 394.99 126.60 395.10" stroke="#1E9CFA" stroke-width="1.2"/>
<path d="M31.80 331.80 C31.91 333.42 32.23 338.35 32.50 341.90 C32.77 345.45 33.05 350.40 33.50 354.00 C33.95 357.60 34.69 362.00 35.30 364.40 C35.91 366.80 36.56 367.45 37.30 369.00 C38.04 370.55 38.92 372.74 39.90 374.10 C40.88 375.46 42.01 376.76 43.40 377.50 C44.79 378.24 46.79 378.22 48.60 378.70 C50.41 379.18 52.35 380.08 54.70 380.50 C57.05 380.92 59.25 381.17 63.30 381.30 C67.35 381.43 69.87 381.30 80.00 381.30 C90.13 381.30 119.14 381.30 126.60 381.30" stroke="#FF8828" stroke-width="1.2"/>
<path d="M35.60 331.80 C35.87 333.42 36.74 338.62 37.30 341.90 C37.86 345.18 38.54 349.26 39.10 352.30 C39.66 355.34 40.11 358.31 40.80 360.90 C41.49 363.49 42.57 366.36 43.40 368.50 C44.23 370.64 45.02 372.57 46.00 374.30 C46.98 376.03 48.25 377.81 49.50 379.30 C50.75 380.79 52.42 382.54 53.80 383.60 C55.18 384.66 56.29 385.34 58.10 385.90 C59.91 386.46 61.60 386.83 65.10 387.10 C68.60 387.37 74.42 387.30 80.00 387.60 C85.58 387.90 92.54 388.74 100.00 389.00 C107.46 389.26 122.34 389.17 126.60 389.20" stroke="#2828FF" stroke-width="1.25"/>
<path d="M36.50 331.80 C36.92 332.58 38.14 335.08 39.10 336.70 C40.06 338.32 41.54 340.24 42.50 341.90 C43.46 343.56 44.40 345.72 45.10 347.10 C45.80 348.48 45.92 349.40 46.90 350.50 C47.88 351.60 50.10 353.02 51.20 354.00 C52.30 354.98 53.11 355.21 53.80 356.60 C54.49 357.99 54.94 361.04 55.50 362.70 C56.06 364.36 56.32 365.75 57.30 367.00 C58.28 368.25 60.08 369.56 61.60 370.50 C63.12 371.44 64.86 372.24 66.80 372.90 C68.74 373.56 71.59 374.10 73.70 374.60 C75.81 375.10 78.10 375.68 80.00 376.00 C81.90 376.32 83.04 376.36 85.60 376.60 C88.16 376.84 92.40 377.24 96.00 377.50 C99.60 377.76 103.20 378.01 108.10 378.20 C113.00 378.39 123.64 378.62 126.60 378.70" stroke="#FF2A2A" stroke-width="1.25"/>
<path d="M22.60 331.80 C22.74 335.35 23.08 348.21 23.50 354.00 C23.92 359.79 24.66 364.10 25.20 368.00 C25.74 371.90 26.34 375.34 26.90 378.40 C27.46 381.46 28.00 384.88 28.70 387.10 C29.40 389.32 30.20 391.05 31.30 392.30 C32.40 393.55 33.81 394.29 35.60 394.90 C37.39 395.51 40.98 395.68 42.50 396.10 C44.02 396.52 43.98 397.20 45.10 397.50 C46.22 397.80 47.13 397.82 49.50 398.00 C51.87 398.18 55.02 398.38 59.90 398.60 C64.78 398.82 69.33 399.24 80.00 399.40 C90.67 399.56 119.14 399.57 126.60 399.60" stroke="#141414" stroke-width="1.25"/>
<path d="M26.90 331.80 C27.00 333.96 27.18 341.09 27.50 345.30 C27.82 349.51 28.55 355.01 28.90 358.10 C29.25 361.19 29.44 362.66 29.70 364.60 C29.96 366.54 30.18 368.39 30.50 370.20 C30.82 372.01 31.32 373.95 31.70 375.90 C32.08 377.85 32.37 380.46 32.90 382.40 C33.43 384.34 34.28 386.45 35.00 388.00 C35.72 389.55 36.62 391.06 37.40 392.10 C38.18 393.14 38.67 393.59 39.90 394.50 C41.13 395.41 43.29 396.90 45.10 397.80 C46.91 398.70 49.12 399.52 51.20 400.10 C53.28 400.68 55.60 400.98 58.10 401.40 C60.60 401.82 63.50 402.32 66.80 402.70 C70.10 403.08 75.42 403.48 78.70 403.80 C81.98 404.12 83.97 404.48 87.30 404.70 C90.63 404.92 95.34 404.98 99.50 405.20 C103.66 405.42 108.96 405.75 113.30 406.10 C117.64 406.45 124.47 407.19 126.60 407.40" stroke="#FF2A2A" stroke-width="1.1" stroke-dasharray="2.3 2.0" stroke-linecap="butt"/>
</g>
<rect x="22.3" y="331.6" width="104.3" height="81.0" fill="none" stroke="#777" stroke-width="0.55"/>
<line x1="40.20" x2="40.20" y1="412.6" y2="411.40000000000003" stroke="#444" stroke-width="0.5"/>
<text x="35.44" y="419.05" class="t" textLength="9.52" lengthAdjust="spacingAndGlyphs">1000</text>
<line x1="61.80" x2="61.80" y1="412.6" y2="411.40000000000003" stroke="#444" stroke-width="0.5"/>
<text x="57.04" y="419.05" class="t" textLength="9.52" lengthAdjust="spacingAndGlyphs">2000</text>
<line x1="83.40" x2="83.40" y1="412.6" y2="411.40000000000003" stroke="#444" stroke-width="0.5"/>
<text x="78.64" y="419.05" class="t" textLength="9.52" lengthAdjust="spacingAndGlyphs">3000</text>
<line x1="105.00" x2="105.00" y1="412.6" y2="411.40000000000003" stroke="#444" stroke-width="0.5"/>
<text x="100.24" y="419.05" class="t" textLength="9.52" lengthAdjust="spacingAndGlyphs">4000</text>
<line x1="126.60" x2="126.60" y1="412.6" y2="411.40000000000003" stroke="#444" stroke-width="0.5"/>
<text x="121.84" y="419.05" class="t" textLength="9.52" lengthAdjust="spacingAndGlyphs">5000</text>
<line x1="22.3" x2="23.5" y1="338.50" y2="338.50" stroke="#444" stroke-width="0.5"/>
<text x="10.78" y="340.25" class="t" textLength="9.52" lengthAdjust="spacingAndGlyphs">1280</text>
<line x1="22.3" x2="23.5" y1="348.70" y2="348.70" stroke="#444" stroke-width="0.5"/>
<text x="10.78" y="350.45" class="t" textLength="9.52" lengthAdjust="spacingAndGlyphs">1260</text>
<line x1="22.3" x2="23.5" y1="358.90" y2="358.90" stroke="#444" stroke-width="0.5"/>
<text x="10.78" y="360.65" class="t" textLength="9.52" lengthAdjust="spacingAndGlyphs">1240</text>
<line x1="22.3" x2="23.5" y1="369.10" y2="369.10" stroke="#444" stroke-width="0.5"/>
<text x="10.78" y="370.85" class="t" textLength="9.52" lengthAdjust="spacingAndGlyphs">1220</text>
<line x1="22.3" x2="23.5" y1="379.30" y2="379.30" stroke="#444" stroke-width="0.5"/>
<text x="10.78" y="381.05" class="t" textLength="9.52" lengthAdjust="spacingAndGlyphs">1200</text>
<line x1="22.3" x2="23.5" y1="389.60" y2="389.60" stroke="#444" stroke-width="0.5"/>
<text x="10.78" y="391.35" class="t" textLength="9.52" lengthAdjust="spacingAndGlyphs">1180</text>
<line x1="22.3" x2="23.5" y1="400.20" y2="400.20" stroke="#444" stroke-width="0.5"/>
<text x="10.78" y="401.95" class="t" textLength="9.52" lengthAdjust="spacingAndGlyphs">1160</text>
<line x1="22.3" x2="23.5" y1="410.90" y2="410.90" stroke="#444" stroke-width="0.5"/>
<text x="10.78" y="412.65" class="t" textLength="9.52" lengthAdjust="spacingAndGlyphs">1140</text>
<text transform="translate(8.20 389.80) rotate(-90)" class="l" textLength="37.6" lengthAdjust="spacingAndGlyphs">Average Best-so-far</text>
<text x="45.35" y="425.25" class="l" textLength="59.1" lengthAdjust="spacingAndGlyphs">Number of Function evaluations</text>
<text x="67.70" y="434.70" class="cap" text-anchor="middle">(i)</text>
<clipPath id="cj"><rect x="22.1" y="439.5" width="105.0" height="81.0"/></clipPath>
<rect x="22.1" y="439.5" width="105.0" height="81.0" fill="#fff"/>
<line x1="22.1" x2="127.1" y1="453.60" y2="453.60" stroke="#ededed" stroke-width="0.4"/>
<line x1="22.1" x2="127.1" y1="475.30" y2="475.30" stroke="#ededed" stroke-width="0.4"/>
<line x1="22.1" x2="127.1" y1="496.80" y2="496.80" stroke="#ededed" stroke-width="0.4"/>
<line x1="22.1" x2="127.1" y1="518.30" y2="518.30" stroke="#ededed" stroke-width="0.4"/>
<line x1="22.1" x2="127.1" y1="515.05" y2="515.05" stroke="#ededed" stroke-width="0.4"/>
<line x1="22.1" x2="127.1" y1="513.15" y2="513.15" stroke="#ededed" stroke-width="0.4"/>
<line x1="22.1" x2="127.1" y1="511.80" y2="511.80" stroke="#ededed" stroke-width="0.4"/>
<line x1="22.1" x2="127.1" y1="510.75" y2="510.75" stroke="#ededed" stroke-width="0.4"/>
<line x1="22.1" x2="127.1" y1="509.90" y2="509.90" stroke="#ededed" stroke-width="0.4"/>
<line x1="22.1" x2="127.1" y1="509.17" y2="509.17" stroke="#ededed" stroke-width="0.4"/>
<line x1="22.1" x2="127.1" y1="508.55" y2="508.55" stroke="#ededed" stroke-width="0.4"/>
<line x1="22.1" x2="127.1" y1="507.99" y2="507.99" stroke="#ededed" stroke-width="0.4"/>
<line x1="22.1" x2="127.1" y1="504.25" y2="504.25" stroke="#ededed" stroke-width="0.4"/>
<line x1="22.1" x2="127.1" y1="502.35" y2="502.35" stroke="#ededed" stroke-width="0.4"/>
<line x1="22.1" x2="127.1" y1="501.00" y2="501.00" stroke="#ededed" stroke-width="0.4"/>
<line x1="22.1" x2="127.1" y1="499.95" y2="499.95" stroke="#ededed" stroke-width="0.4"/>
<line x1="22.1" x2="127.1" y1="499.10" y2="499.10" stroke="#ededed" stroke-width="0.4"/>
<line x1="22.1" x2="127.1" y1="498.37" y2="498.37" stroke="#ededed" stroke-width="0.4"/>
<line x1="22.1" x2="127.1" y1="497.75" y2="497.75" stroke="#ededed" stroke-width="0.4"/>
<line x1="22.1" x2="127.1" y1="497.19" y2="497.19" stroke="#ededed" stroke-width="0.4"/>
<line x1="22.1" x2="127.1" y1="493.45" y2="493.45" stroke="#ededed" stroke-width="0.4"/>
<line x1="22.1" x2="127.1" y1="491.55" y2="491.55" stroke="#ededed" stroke-width="0.4"/>
<line x1="22.1" x2="127.1" y1="490.20" y2="490.20" stroke="#ededed" stroke-width="0.4"/>
<line x1="22.1" x2="127.1" y1="489.15" y2="489.15" stroke="#ededed" stroke-width="0.4"/>
<line x1="22.1" x2="127.1" y1="488.30" y2="488.30" stroke="#ededed" stroke-width="0.4"/>
<line x1="22.1" x2="127.1" y1="487.57" y2="487.57" stroke="#ededed" stroke-width="0.4"/>
<line x1="22.1" x2="127.1" y1="486.95" y2="486.95" stroke="#ededed" stroke-width="0.4"/>
<line x1="22.1" x2="127.1" y1="486.39" y2="486.39" stroke="#ededed" stroke-width="0.4"/>
<line x1="22.1" x2="127.1" y1="482.65" y2="482.65" stroke="#ededed" stroke-width="0.4"/>
<line x1="22.1" x2="127.1" y1="480.75" y2="480.75" stroke="#ededed" stroke-width="0.4"/>
<line x1="22.1" x2="127.1" y1="479.40" y2="479.40" stroke="#ededed" stroke-width="0.4"/>
<line x1="22.1" x2="127.1" y1="478.35" y2="478.35" stroke="#ededed" stroke-width="0.4"/>
<line x1="22.1" x2="127.1" y1="477.50" y2="477.50" stroke="#ededed" stroke-width="0.4"/>
<line x1="22.1" x2="127.1" y1="476.77" y2="476.77" stroke="#ededed" stroke-width="0.4"/>
<line x1="22.1" x2="127.1" y1="476.15" y2="476.15" stroke="#ededed" stroke-width="0.4"/>
<line x1="22.1" x2="127.1" y1="475.59" y2="475.59" stroke="#ededed" stroke-width="0.4"/>
<line x1="22.1" x2="127.1" y1="471.85" y2="471.85" stroke="#ededed" stroke-width="0.4"/>
<line x1="22.1" x2="127.1" y1="469.95" y2="469.95" stroke="#ededed" stroke-width="0.4"/>
<line x1="22.1" x2="127.1" y1="468.60" y2="468.60" stroke="#ededed" stroke-width="0.4"/>
<line x1="22.1" x2="127.1" y1="467.55" y2="467.55" stroke="#ededed" stroke-width="0.4"/>
<line x1="22.1" x2="127.1" y1="466.70" y2="466.70" stroke="#ededed" stroke-width="0.4"/>
<line x1="22.1" x2="127.1" y1="465.97" y2="465.97" stroke="#ededed" stroke-width="0.4"/>
<line x1="22.1" x2="127.1" y1="465.35" y2="465.35" stroke="#ededed" stroke-width="0.4"/>
<line x1="22.1" x2="127.1" y1="464.79" y2="464.79" stroke="#ededed" stroke-width="0.4"/>
<line x1="22.1" x2="127.1" y1="461.05" y2="461.05" stroke="#ededed" stroke-width="0.4"/>
<line x1="22.1" x2="127.1" y1="459.15" y2="459.15" stroke="#ededed" stroke-width="0.4"/>
<line x1="22.1" x2="127.1" y1="457.80" y2="457.80" stroke="#ededed" stroke-width="0.4"/>
<line x1="22.1" x2="127.1" y1="456.75" y2="456.75" stroke="#ededed" stroke-width="0.4"/>
<line x1="22.1" x2="127.1" y1="455.90" y2="455.90" stroke="#ededed" stroke-width="0.4"/>
<line x1="22.1" x2="127.1" y1="455.17" y2="455.17" stroke="#ededed" stroke-width="0.4"/>
<line x1="22.1" x2="127.1" y1="454.55" y2="454.55" stroke="#ededed" stroke-width="0.4"/>
<line x1="22.1" x2="127.1" y1="453.99" y2="453.99" stroke="#ededed" stroke-width="0.4"/>
<line x1="22.1" x2="127.1" y1="450.25" y2="450.25" stroke="#ededed" stroke-width="0.4"/>
<line x1="22.1" x2="127.1" y1="448.35" y2="448.35" stroke="#ededed" stroke-width="0.4"/>
<line x1="22.1" x2="127.1" y1="447.00" y2="447.00" stroke="#ededed" stroke-width="0.4"/>
<line x1="22.1" x2="127.1" y1="445.95" y2="445.95" stroke="#ededed" stroke-width="0.4"/>
<line x1="22.1" x2="127.1" y1="445.10" y2="445.10" stroke="#ededed" stroke-width="0.4"/>
<line x1="22.1" x2="127.1" y1="444.37" y2="444.37" stroke="#ededed" stroke-width="0.4"/>
<line x1="22.1" x2="127.1" y1="443.75" y2="443.75" stroke="#ededed" stroke-width="0.4"/>
<line x1="22.1" x2="127.1" y1="443.19" y2="443.19" stroke="#ededed" stroke-width="0.4"/>
<line x1="43.20" x2="43.20" y1="439.5" y2="520.5" stroke="#d6d6d6" stroke-width="0.55"/>
<line x1="64.60" x2="64.60" y1="439.5" y2="520.5" stroke="#d6d6d6" stroke-width="0.55"/>
<line x1="85.50" x2="85.50" y1="439.5" y2="520.5" stroke="#d6d6d6" stroke-width="0.55"/>
<line x1="106.50" x2="106.50" y1="439.5" y2="520.5" stroke="#d6d6d6" stroke-width="0.55"/>
<line x1="127.10" x2="127.10" y1="439.5" y2="520.5" stroke="#d6d6d6" stroke-width="0.55"/>
<line x1="22.1" x2="127.1" y1="442.70" y2="442.70" stroke="#e8e8e8" stroke-width="0.55"/>
<line x1="22.1" x2="127.1" y1="464.50" y2="464.50" stroke="#e8e8e8" stroke-width="0.55"/>
<line x1="22.1" x2="127.1" y1="486.00" y2="486.00" stroke="#e8e8e8" stroke-width="0.55"/>
<line x1="22.1" x2="127.1" y1="507.50" y2="507.50" stroke="#e8e8e8" stroke-width="0.55"/>
<g clip-path="url(#cj)" fill="none" stroke-linejoin="round" stroke-linecap="round">
<path d="M22.40 452.00 C22.58 454.24 23.00 462.16 23.50 466.00 C24.00 469.84 24.83 473.76 25.50 476.00 C26.17 478.24 26.90 478.72 27.70 480.00 C28.50 481.28 29.52 482.83 30.50 484.00 C31.48 485.17 32.76 486.26 33.80 487.30 C34.84 488.34 35.98 489.54 37.00 490.50 C38.02 491.46 39.16 492.45 40.20 493.30 C41.24 494.15 42.25 494.89 43.50 495.80 C44.75 496.71 46.50 498.07 48.00 499.00 C49.50 499.93 51.00 500.74 52.90 501.60 C54.80 502.46 57.40 503.65 59.90 504.40 C62.40 505.15 65.28 505.71 68.50 506.30 C71.72 506.89 76.99 507.62 80.00 508.10 C83.01 508.58 83.35 508.92 87.30 509.30 C91.25 509.68 98.33 510.15 104.70 510.50 C111.07 510.85 123.52 511.34 127.10 511.50" stroke="#909090" stroke-width="1.0"/>
<path d="M22.10 451.90 L47.70 452.00 L48.60 453.30 L51.20 454.70 L58.10 455.40 L66.80 455.90 L80.00 456.60 L100.30 456.90 L101.50 459.00 L127.10 459.30" stroke="#50AE68" stroke-width="1.3"/>
<path d="M22.70 462.00 C23.10 463.81 24.24 471.08 25.20 473.30 C26.16 475.52 27.31 475.28 28.70 475.90 C30.09 476.52 31.69 476.88 33.90 477.20 C36.11 477.52 35.12 477.74 42.50 477.90 C49.88 478.06 66.46 478.12 80.00 478.20 C93.54 478.28 119.56 478.37 127.10 478.40" stroke="#B8466A" stroke-width="1.1"/>
<path d="M22.30 448.00 C22.35 448.85 22.14 451.62 22.60 453.30 C23.06 454.98 23.95 456.96 25.20 458.50 C26.45 460.04 28.46 461.65 30.40 462.90 C32.34 464.15 35.08 465.20 37.30 466.30 C39.52 467.40 42.08 468.82 44.30 469.80 C46.52 470.78 48.99 471.57 51.20 472.40 C53.41 473.23 55.88 474.17 58.10 475.00 C60.32 475.83 62.88 476.91 65.10 477.60 C67.32 478.29 69.62 478.77 72.00 479.30 C74.38 479.83 77.55 480.40 80.00 480.90 C82.45 481.40 84.74 481.89 87.30 482.40 C89.86 482.91 93.22 483.64 96.00 484.10 C98.78 484.56 101.64 485.16 104.70 485.30 C107.76 485.44 111.52 485.13 115.10 485.00 C118.68 484.87 125.18 484.58 127.10 484.50" stroke="#30E6F2" stroke-width="1.1"/>
<path d="M22.70 462.00 C22.96 463.39 23.48 468.62 24.30 470.70 C25.12 472.78 26.26 473.90 27.80 475.00 C29.34 476.10 31.55 476.96 33.90 477.60 C36.25 478.24 39.17 478.58 42.50 479.00 C45.83 479.42 50.81 479.82 54.70 480.20 C58.59 480.58 62.75 481.05 66.80 481.40 C70.85 481.75 76.72 482.02 80.00 482.40 C83.28 482.78 83.35 483.30 87.30 483.80 C91.25 484.30 98.33 484.89 104.70 485.50 C111.07 486.11 123.52 487.26 127.10 487.60" stroke="#85389E" stroke-width="1.1"/>
<path d="M22.20 449.00 C22.23 449.88 21.97 452.85 22.40 454.50 C22.83 456.15 24.12 457.75 24.90 459.30 C25.68 460.85 26.53 462.78 27.30 464.20 C28.07 465.62 28.80 467.03 29.70 468.20 C30.60 469.37 31.73 470.46 32.90 471.50 C34.07 472.54 35.70 473.74 37.00 474.70 C38.30 475.66 39.83 476.76 41.00 477.50 C42.17 478.24 42.94 478.72 44.30 479.30 C45.66 479.88 47.84 480.57 49.50 481.10 C51.16 481.63 53.04 482.10 54.70 482.60 C56.36 483.10 58.24 483.69 59.90 484.20 C61.56 484.71 63.44 485.26 65.10 485.80 C66.76 486.34 68.41 486.90 70.30 487.60 C72.19 488.30 74.72 489.37 76.90 490.20 C79.08 491.03 81.40 492.11 83.90 492.80 C86.40 493.49 89.73 493.89 92.50 494.50 C95.27 495.11 98.42 496.04 101.20 496.60 C103.98 497.16 107.13 497.63 109.90 498.00 C112.67 498.37 115.75 498.56 118.50 498.90 C121.25 499.24 125.72 499.91 127.10 500.10" stroke="#1E9CFA" stroke-width="1.2"/>
<path d="M22.60 462.00 C22.79 463.10 23.11 466.55 23.80 468.90 C24.49 471.25 25.57 474.97 26.90 476.70 C28.23 478.43 30.15 479.06 32.10 479.70 C34.05 480.34 36.32 480.43 39.10 480.70 C41.88 480.97 45.63 481.16 49.50 481.40 C53.37 481.64 59.22 481.94 63.30 482.20 C67.38 482.46 71.16 482.55 75.00 483.00 C78.84 483.45 82.55 484.12 87.30 485.00 C92.05 485.88 100.25 487.59 104.70 488.50 C109.15 489.41 111.52 490.01 115.10 490.70 C118.68 491.39 125.18 492.46 127.10 492.80" stroke="#2828FF" stroke-width="1.25"/>
<path d="M22.50 462.00 C22.66 462.83 22.92 465.12 23.50 467.20 C24.08 469.28 25.00 473.19 26.10 475.00 C27.20 476.81 28.61 477.67 30.40 478.50 C32.19 479.33 34.53 479.77 37.30 480.20 C40.07 480.63 44.08 480.91 47.70 481.20 C51.32 481.49 56.01 481.78 59.90 482.00 C63.79 482.22 67.62 482.04 72.00 482.60 C76.38 483.16 82.07 484.65 87.30 485.50 C92.53 486.35 98.33 487.10 104.70 487.90 C111.07 488.70 123.52 490.08 127.10 490.50" stroke="#FF2A2A" stroke-width="1.25"/>
<path d="M22.30 448.00 C22.35 449.41 22.28 453.17 22.60 456.80 C22.92 460.43 23.61 467.37 24.30 470.70 C24.99 474.03 25.92 475.81 26.90 477.60 C27.88 479.39 29.57 480.91 30.40 481.90 C31.23 482.89 31.00 482.52 32.10 483.80 C33.20 485.08 35.64 488.09 37.30 489.90 C38.96 491.71 41.25 493.85 42.50 495.10 C43.75 496.35 44.27 496.66 45.10 497.70 C45.93 498.74 46.72 500.72 47.70 501.60 C48.68 502.48 49.54 502.86 51.20 503.20 C52.86 503.54 53.49 503.67 58.10 503.70 C62.71 503.73 72.54 503.34 80.00 503.40 C87.46 503.46 98.54 503.86 104.70 504.10 C110.86 504.34 114.92 504.63 118.50 504.90 C122.08 505.17 125.72 505.66 127.10 505.80" stroke="#FF8828" stroke-width="1.2"/>
<path d="M22.30 462.00 C22.35 463.28 22.41 467.20 22.60 470.00 C22.79 472.80 23.08 476.88 23.50 479.50 C23.92 482.12 24.51 484.19 25.20 486.40 C25.89 488.61 26.97 491.22 27.80 493.30 C28.63 495.38 29.42 497.74 30.40 499.40 C31.38 501.06 32.80 502.72 33.90 503.70 C35.00 504.68 29.92 505.15 37.30 505.50 C44.68 505.85 65.63 505.77 80.00 505.90 C94.37 506.03 119.56 506.24 127.10 506.30" stroke="#3CEA3C" stroke-width="1.0"/>
<path d="M22.20 455.00 C22.23 456.98 22.18 464.25 22.40 467.40 C22.62 470.55 23.14 472.68 23.60 474.70 C24.06 476.72 24.77 478.37 25.30 480.00 C25.83 481.63 26.32 483.35 26.90 484.90 C27.48 486.45 28.26 488.28 28.90 489.70 C29.54 491.12 30.39 492.50 30.90 493.80 C31.41 495.10 31.57 496.52 32.10 497.80 C32.63 499.08 33.42 500.70 34.20 501.80 C34.98 502.90 35.91 504.04 37.00 504.70 C38.09 505.36 39.24 505.66 41.00 505.90 C42.76 506.14 41.76 506.09 48.00 506.20 C54.24 506.31 67.34 506.49 80.00 506.60 C92.66 506.71 119.56 506.85 127.10 506.90" stroke="#141414" stroke-width="1.25"/>
<path d="M27.00 487.00 C27.11 487.43 27.33 488.23 27.70 489.70 C28.07 491.17 28.72 494.26 29.30 496.20 C29.88 498.14 30.66 500.25 31.30 501.80 C31.94 503.35 32.64 504.67 33.30 505.90 C33.96 507.13 34.68 508.46 35.40 509.50 C36.12 510.54 36.90 511.62 37.80 512.40 C38.70 513.18 39.96 513.95 41.00 514.40 C42.04 514.85 42.94 514.99 44.30 515.20 C45.66 515.41 43.79 515.52 49.50 515.70 C55.21 515.88 67.58 516.17 80.00 516.30 C92.42 516.43 119.56 516.47 127.10 516.50" stroke="#FF2A2A" stroke-width="1.1" stroke-dasharray="2.3 2.0" stroke-linecap="butt"/>
</g>
<rect x="22.1" y="439.5" width="105.0" height="81.0" fill="none" stroke="#777" stroke-width="0.55"/>
<line x1="43.20" x2="43.20" y1="520.5" y2="519.3" stroke="#444" stroke-width="0.5"/>
<text x="38.44" y="527.25" class="t" textLength="9.52" lengthAdjust="spacingAndGlyphs">1000</text>
<line x1="64.60" x2="64.60" y1="520.5" y2="519.3" stroke="#444" stroke-width="0.5"/>
<text x="59.84" y="527.25" class="t" textLength="9.52" lengthAdjust="spacingAndGlyphs">2000</text>
<line x1="85.50" x2="85.50" y1="520.5" y2="519.3" stroke="#444" stroke-width="0.5"/>
<text x="80.74" y="527.25" class="t" textLength="9.52" lengthAdjust="spacingAndGlyphs">3000</text>
<line x1="106.50" x2="106.50" y1="520.5" y2="519.3" stroke="#444" stroke-width="0.5"/>
<text x="101.74" y="527.25" class="t" textLength="9.52" lengthAdjust="spacingAndGlyphs">4000</text>
<line x1="127.10" x2="127.10" y1="520.5" y2="519.3" stroke="#444" stroke-width="0.5"/>
<text x="122.34" y="527.25" class="t" textLength="9.52" lengthAdjust="spacingAndGlyphs">5000</text>
<line x1="22.1" x2="23.3" y1="442.70" y2="442.70" stroke="#444" stroke-width="0.5"/>
<text x="16.50" y="444.90" class="t2" text-anchor="end">10</text>
<text x="16.60" y="442.60" class="s">10</text>
<line x1="22.1" x2="23.3" y1="464.50" y2="464.50" stroke="#444" stroke-width="0.5"/>
<text x="18.40" y="466.70" class="t2" text-anchor="end">10</text>
<text x="18.50" y="464.40" class="s">8</text>
<line x1="22.1" x2="23.3" y1="486.00" y2="486.00" stroke="#444" stroke-width="0.5"/>
<text x="18.40" y="488.20" class="t2" text-anchor="end">10</text>
<text x="18.50" y="485.90" class="s">6</text>
<line x1="22.1" x2="23.3" y1="507.50" y2="507.50" stroke="#444" stroke-width="0.5"/>
<text x="18.40" y="509.70" class="t2" text-anchor="end">10</text>
<text x="18.50" y="507.40" class="s">4</text>
<text transform="translate(8.90 497.65) rotate(-90)" class="l" textLength="36.3" lengthAdjust="spacingAndGlyphs">Average Best-so-far</text>
<text x="45.35" y="533.75" class="l" textLength="59.1" lengthAdjust="spacingAndGlyphs">Number of Function evaluations</text>
<text x="67.70" y="545.10" class="cap" text-anchor="middle">(j)</text>
<clipPath id="ck"><rect x="229.3" y="438.5" width="107.89999999999998" height="82.20000000000005"/></clipPath>
<rect x="229.3" y="438.5" width="107.89999999999998" height="82.20000000000005" fill="#fff"/>
<line x1="229.3" x2="337.2" y1="439.40" y2="439.40" stroke="#ededed" stroke-width="0.4"/>
<line x1="229.3" x2="337.2" y1="466.80" y2="466.80" stroke="#ededed" stroke-width="0.4"/>
<line x1="229.3" x2="337.2" y1="494.30" y2="494.30" stroke="#ededed" stroke-width="0.4"/>
<line x1="229.3" x2="337.2" y1="517.71" y2="517.71" stroke="#ededed" stroke-width="0.4"/>
<line x1="229.3" x2="337.2" y1="515.29" y2="515.29" stroke="#ededed" stroke-width="0.4"/>
<line x1="229.3" x2="337.2" y1="513.57" y2="513.57" stroke="#ededed" stroke-width="0.4"/>
<line x1="229.3" x2="337.2" y1="512.24" y2="512.24" stroke="#ededed" stroke-width="0.4"/>
<line x1="229.3" x2="337.2" y1="511.15" y2="511.15" stroke="#ededed" stroke-width="0.4"/>
<line x1="229.3" x2="337.2" y1="510.23" y2="510.23" stroke="#ededed" stroke-width="0.4"/>
<line x1="229.3" x2="337.2" y1="509.43" y2="509.43" stroke="#ededed" stroke-width="0.4"/>
<line x1="229.3" x2="337.2" y1="508.73" y2="508.73" stroke="#ededed" stroke-width="0.4"/>
<line x1="229.3" x2="337.2" y1="503.96" y2="503.96" stroke="#ededed" stroke-width="0.4"/>
<line x1="229.3" x2="337.2" y1="501.54" y2="501.54" stroke="#ededed" stroke-width="0.4"/>
<line x1="229.3" x2="337.2" y1="499.82" y2="499.82" stroke="#ededed" stroke-width="0.4"/>
<line x1="229.3" x2="337.2" y1="498.49" y2="498.49" stroke="#ededed" stroke-width="0.4"/>
<line x1="229.3" x2="337.2" y1="497.40" y2="497.40" stroke="#ededed" stroke-width="0.4"/>
<line x1="229.3" x2="337.2" y1="496.48" y2="496.48" stroke="#ededed" stroke-width="0.4"/>
<line x1="229.3" x2="337.2" y1="495.68" y2="495.68" stroke="#ededed" stroke-width="0.4"/>
<line x1="229.3" x2="337.2" y1="494.98" y2="494.98" stroke="#ededed" stroke-width="0.4"/>
<line x1="229.3" x2="337.2" y1="490.21" y2="490.21" stroke="#ededed" stroke-width="0.4"/>
<line x1="229.3" x2="337.2" y1="487.79" y2="487.79" stroke="#ededed" stroke-width="0.4"/>
<line x1="229.3" x2="337.2" y1="486.07" y2="486.07" stroke="#ededed" stroke-width="0.4"/>
<line x1="229.3" x2="337.2" y1="484.74" y2="484.74" stroke="#ededed" stroke-width="0.4"/>
<line x1="229.3" x2="337.2" y1="483.65" y2="483.65" stroke="#ededed" stroke-width="0.4"/>
<line x1="229.3" x2="337.2" y1="482.73" y2="482.73" stroke="#ededed" stroke-width="0.4"/>
<line x1="229.3" x2="337.2" y1="481.93" y2="481.93" stroke="#ededed" stroke-width="0.4"/>
<line x1="229.3" x2="337.2" y1="481.23" y2="481.23" stroke="#ededed" stroke-width="0.4"/>
<line x1="229.3" x2="337.2" y1="476.46" y2="476.46" stroke="#ededed" stroke-width="0.4"/>
<line x1="229.3" x2="337.2" y1="474.04" y2="474.04" stroke="#ededed" stroke-width="0.4"/>
<line x1="229.3" x2="337.2" y1="472.32" y2="472.32" stroke="#ededed" stroke-width="0.4"/>
<line x1="229.3" x2="337.2" y1="470.99" y2="470.99" stroke="#ededed" stroke-width="0.4"/>
<line x1="229.3" x2="337.2" y1="469.90" y2="469.90" stroke="#ededed" stroke-width="0.4"/>
<line x1="229.3" x2="337.2" y1="468.98" y2="468.98" stroke="#ededed" stroke-width="0.4"/>
<line x1="229.3" x2="337.2" y1="468.18" y2="468.18" stroke="#ededed" stroke-width="0.4"/>
<line x1="229.3" x2="337.2" y1="467.48" y2="467.48" stroke="#ededed" stroke-width="0.4"/>
<line x1="229.3" x2="337.2" y1="462.71" y2="462.71" stroke="#ededed" stroke-width="0.4"/>
<line x1="229.3" x2="337.2" y1="460.29" y2="460.29" stroke="#ededed" stroke-width="0.4"/>
<line x1="229.3" x2="337.2" y1="458.57" y2="458.57" stroke="#ededed" stroke-width="0.4"/>
<line x1="229.3" x2="337.2" y1="457.24" y2="457.24" stroke="#ededed" stroke-width="0.4"/>
<line x1="229.3" x2="337.2" y1="456.15" y2="456.15" stroke="#ededed" stroke-width="0.4"/>
<line x1="229.3" x2="337.2" y1="455.23" y2="455.23" stroke="#ededed" stroke-width="0.4"/>
<line x1="229.3" x2="337.2" y1="454.43" y2="454.43" stroke="#ededed" stroke-width="0.4"/>
<line x1="229.3" x2="337.2" y1="453.73" y2="453.73" stroke="#ededed" stroke-width="0.4"/>
<line x1="229.3" x2="337.2" y1="448.96" y2="448.96" stroke="#ededed" stroke-width="0.4"/>
<line x1="229.3" x2="337.2" y1="446.54" y2="446.54" stroke="#ededed" stroke-width="0.4"/>
<line x1="229.3" x2="337.2" y1="444.82" y2="444.82" stroke="#ededed" stroke-width="0.4"/>
<line x1="229.3" x2="337.2" y1="443.49" y2="443.49" stroke="#ededed" stroke-width="0.4"/>
<line x1="229.3" x2="337.2" y1="442.40" y2="442.40" stroke="#ededed" stroke-width="0.4"/>
<line x1="229.3" x2="337.2" y1="441.48" y2="441.48" stroke="#ededed" stroke-width="0.4"/>
<line x1="229.3" x2="337.2" y1="440.68" y2="440.68" stroke="#ededed" stroke-width="0.4"/>
<line x1="229.3" x2="337.2" y1="439.98" y2="439.98" stroke="#ededed" stroke-width="0.4"/>
<line x1="250.90" x2="250.90" y1="438.5" y2="520.7" stroke="#d6d6d6" stroke-width="0.55"/>
<line x1="272.30" x2="272.30" y1="438.5" y2="520.7" stroke="#d6d6d6" stroke-width="0.55"/>
<line x1="294.00" x2="294.00" y1="438.5" y2="520.7" stroke="#d6d6d6" stroke-width="0.55"/>
<line x1="315.60" x2="315.60" y1="438.5" y2="520.7" stroke="#d6d6d6" stroke-width="0.55"/>
<line x1="337.20" x2="337.20" y1="438.5" y2="520.7" stroke="#d6d6d6" stroke-width="0.55"/>
<line x1="229.3" x2="337.2" y1="453.10" y2="453.10" stroke="#e8e8e8" stroke-width="0.55"/>
<line x1="229.3" x2="337.2" y1="480.50" y2="480.50" stroke="#e8e8e8" stroke-width="0.55"/>
<line x1="229.3" x2="337.2" y1="508.10" y2="508.10" stroke="#e8e8e8" stroke-width="0.55"/>
<g clip-path="url(#ck)" fill="none" stroke-linejoin="round" stroke-linecap="round">
<path d="M229.60 462.00 C229.70 463.60 229.90 468.80 230.20 472.00 C230.50 475.20 231.10 479.42 231.50 482.00 C231.90 484.58 232.19 486.21 232.70 488.10 C233.21 489.99 234.00 492.25 234.70 493.80 C235.40 495.35 236.33 496.65 237.10 497.80 C237.87 498.95 238.65 500.02 239.50 501.00 C240.35 501.98 241.55 503.12 242.40 503.90 C243.25 504.68 243.90 505.16 244.80 505.90 C245.70 506.64 246.96 507.64 248.00 508.50 C249.04 509.36 249.94 510.32 251.30 511.30 C252.66 512.28 254.84 513.77 256.50 514.60 C258.16 515.43 259.76 516.02 261.70 516.50 C263.64 516.98 264.55 517.31 268.60 517.60 C272.65 517.89 276.02 518.04 287.00 518.30 C297.98 518.56 329.17 519.06 337.20 519.20" stroke="#909090" stroke-width="1.0"/>
<path d="M229.30 445.00 L255.60 445.50 L256.50 448.10 L259.90 450.20 L266.90 451.30 L277.30 452.10 L287.00 452.60 L309.50 452.80 L310.80 455.10 L337.20 455.40" stroke="#50AE68" stroke-width="1.3"/>
<path d="M229.80 462.00 C229.91 464.24 230.12 472.10 230.50 476.00 C230.88 479.90 231.37 484.24 232.20 486.40 C233.03 488.56 234.31 488.83 235.70 489.50 C237.09 490.17 232.69 490.41 240.90 490.60 C249.11 490.79 271.59 490.70 287.00 490.70 C302.41 490.70 329.17 490.62 337.20 490.60" stroke="#B8466A" stroke-width="1.1"/>
<path d="M229.30 446.00 C229.32 447.17 229.08 450.74 229.40 453.30 C229.72 455.86 230.29 459.63 231.30 462.00 C232.31 464.37 233.89 466.44 235.70 468.10 C237.51 469.76 240.39 471.15 242.60 472.40 C244.81 473.65 247.28 474.72 249.50 475.90 C251.72 477.08 254.28 478.54 256.50 479.80 C258.72 481.06 261.19 482.52 263.40 483.80 C265.61 485.08 268.08 486.73 270.30 487.80 C272.52 488.87 275.27 489.75 277.30 490.50 C279.33 491.25 281.18 491.92 283.00 492.50 C284.82 493.08 286.41 493.57 288.70 494.10 C290.99 494.63 294.26 495.38 297.30 495.80 C300.34 496.22 304.08 496.48 307.70 496.70 C311.32 496.92 315.18 497.07 319.90 497.20 C324.62 497.33 334.43 497.45 337.20 497.50" stroke="#30E6F2" stroke-width="1.1"/>
<path d="M229.90 462.00 C230.08 464.24 230.55 472.61 231.00 476.00 C231.45 479.39 232.04 481.65 232.70 483.20 C233.36 484.75 234.20 485.04 235.10 485.70 C236.00 486.36 237.00 486.79 238.30 487.30 C239.60 487.81 241.65 488.45 243.20 488.90 C244.75 489.35 246.11 489.72 248.00 490.10 C249.89 490.48 252.81 490.90 255.00 491.30 C257.19 491.70 258.42 492.09 261.70 492.60 C264.98 493.11 271.45 493.99 275.50 494.50 C279.55 495.01 283.51 495.32 287.00 495.80 C290.49 496.28 292.87 496.94 297.30 497.50 C301.73 498.06 308.32 498.82 314.70 499.30 C321.08 499.78 333.60 500.31 337.20 500.50" stroke="#85389E" stroke-width="1.1"/>
<path d="M229.30 446.00 C229.33 447.17 229.42 451.68 229.50 453.30 C229.58 454.92 229.50 454.36 229.80 456.10 C230.10 457.84 230.81 461.98 231.40 464.20 C231.99 466.42 232.78 468.19 233.50 470.00 C234.22 471.81 235.00 473.84 235.90 475.50 C236.80 477.16 238.06 479.14 239.10 480.40 C240.14 481.66 241.28 482.30 242.40 483.40 C243.52 484.50 244.40 485.99 246.10 487.30 C247.80 488.61 250.79 490.42 253.00 491.60 C255.21 492.78 257.68 493.87 259.90 494.70 C262.12 495.53 264.40 496.11 266.90 496.80 C269.40 497.49 272.92 498.39 275.50 499.00 C278.08 499.61 280.89 500.14 283.00 500.60 C285.11 501.06 285.85 501.48 288.70 501.90 C291.55 502.32 296.64 502.88 300.80 503.20 C304.96 503.52 308.88 503.76 314.70 503.90 C320.52 504.04 333.60 504.07 337.20 504.10" stroke="#1E9CFA" stroke-width="1.2"/>
<path d="M229.90 462.00 C230.08 463.92 230.49 470.74 231.00 474.00 C231.51 477.26 232.44 480.53 233.10 482.40 C233.76 484.27 234.59 484.66 235.10 485.70 C235.61 486.74 235.92 488.07 236.30 488.90 C236.68 489.73 236.78 490.36 237.50 490.90 C238.22 491.44 239.50 491.84 240.80 492.30 C242.10 492.76 243.92 493.48 245.60 493.80 C247.28 494.12 249.28 494.20 251.30 494.30 C253.32 494.40 255.16 494.26 258.20 494.40 C261.24 494.54 266.33 494.86 270.30 495.20 C274.27 495.54 278.25 495.81 283.00 496.50 C287.75 497.19 294.08 498.56 300.00 499.50 C305.92 500.44 314.05 501.70 320.00 502.40 C325.95 503.10 334.45 503.66 337.20 503.90" stroke="#2828FF" stroke-width="1.25"/>
<path d="M229.60 462.00 C229.66 463.92 229.81 470.66 230.00 474.00 C230.19 477.34 230.30 480.36 230.80 482.90 C231.30 485.44 232.04 488.28 233.10 489.90 C234.16 491.52 235.61 492.39 237.40 493.00 C239.19 493.61 241.53 493.51 244.30 493.70 C247.07 493.89 250.81 493.96 254.70 494.20 C258.59 494.44 264.23 494.91 268.60 495.20 C272.97 495.49 277.95 495.49 282.00 496.00 C286.05 496.51 289.79 497.68 293.90 498.40 C298.01 499.12 303.27 499.94 307.70 500.50 C312.13 501.06 316.88 501.55 321.60 501.90 C326.32 502.25 334.70 502.57 337.20 502.70" stroke="#FF2A2A" stroke-width="1.25"/>
<path d="M229.50 462.00 C229.53 463.92 229.60 470.66 229.70 474.00 C229.80 477.34 229.70 479.25 230.10 482.90 C230.50 486.55 231.30 493.33 232.20 496.80 C233.10 500.27 234.31 502.94 235.70 504.60 C237.09 506.26 239.24 506.51 240.90 507.20 C242.56 507.89 244.44 508.21 246.10 508.90 C247.76 509.59 249.64 510.80 251.30 511.50 C252.96 512.20 254.56 512.82 256.50 513.30 C258.44 513.78 260.90 514.15 263.40 514.50 C265.90 514.85 268.32 515.18 272.10 515.50 C275.88 515.82 276.58 516.24 287.00 516.50 C297.42 516.76 329.17 517.00 337.20 517.10" stroke="#3CEA3C" stroke-width="1.0"/>
<path d="M229.70 458.00 C229.83 459.92 230.08 466.48 230.50 470.00 C230.92 473.52 231.82 477.62 232.30 480.00 C232.78 482.38 233.05 483.35 233.50 484.90 C233.95 486.45 234.46 488.42 235.10 489.70 C235.74 490.98 236.73 491.86 237.50 492.90 C238.27 493.94 239.18 495.16 239.90 496.20 C240.62 497.24 241.34 498.36 242.00 499.40 C242.66 500.44 243.30 501.79 244.00 502.70 C244.70 503.61 245.63 504.40 246.40 505.10 C247.17 505.80 247.89 506.52 248.80 507.10 C249.71 507.68 251.11 508.32 252.10 508.70 C253.09 509.08 253.46 509.18 255.00 509.50 C256.54 509.82 259.94 510.33 261.70 510.70 C263.46 511.07 264.75 511.40 266.00 511.80 C267.25 512.20 268.57 512.70 269.50 513.20 C270.43 513.70 270.89 514.53 271.80 514.90 C272.71 515.27 272.43 515.32 275.20 515.50 C277.97 515.68 284.17 515.84 289.10 516.00 C294.03 516.16 301.90 516.32 306.00 516.50 C310.10 516.68 309.71 516.94 314.70 517.10 C319.69 517.26 333.60 517.44 337.20 517.50" stroke="#FF8828" stroke-width="1.2"/>
<path d="M229.40 462.00 C229.46 464.88 229.61 476.08 229.80 480.00 C229.99 483.92 230.20 484.16 230.60 486.50 C231.00 488.84 231.71 492.41 232.30 494.60 C232.89 496.79 233.60 498.65 234.30 500.20 C235.00 501.75 235.93 503.32 236.70 504.30 C237.47 505.28 238.19 505.85 239.10 506.30 C240.01 506.75 241.10 506.94 242.40 507.10 C243.70 507.26 241.18 507.25 247.20 507.30 C253.22 507.35 271.98 507.22 280.00 507.40 C288.02 507.58 291.75 508.13 297.30 508.40 C302.85 508.67 308.32 508.89 314.70 509.10 C321.08 509.31 333.60 509.60 337.20 509.70" stroke="#141414" stroke-width="1.25"/>
<path d="M233.40 499.00 C233.54 499.72 234.03 502.27 234.30 503.50 C234.57 504.73 234.78 505.40 235.10 506.70 C235.42 508.00 235.85 510.18 236.30 511.60 C236.75 513.02 237.26 514.51 237.90 515.60 C238.54 516.69 239.45 517.79 240.30 518.40 C241.15 519.01 242.10 519.19 243.20 519.40 C244.30 519.61 240.19 519.65 247.20 519.70 C254.21 519.75 272.60 519.67 287.00 519.70 C301.40 519.73 329.17 519.87 337.20 519.90" stroke="#FF2A2A" stroke-width="1.1" stroke-dasharray="2.3 2.0" stroke-linecap="butt"/>
</g>
<rect x="229.3" y="438.5" width="107.89999999999998" height="82.20000000000005" fill="none" stroke="#777" stroke-width="0.55"/>
<line x1="250.90" x2="250.90" y1="520.7" y2="519.5" stroke="#444" stroke-width="0.5"/>
<text x="246.14" y="528.15" class="t" textLength="9.52" lengthAdjust="spacingAndGlyphs">1000</text>
<line x1="272.30" x2="272.30" y1="520.7" y2="519.5" stroke="#444" stroke-width="0.5"/>
<text x="267.54" y="528.15" class="t" textLength="9.52" lengthAdjust="spacingAndGlyphs">2000</text>
<line x1="294.00" x2="294.00" y1="520.7" y2="519.5" stroke="#444" stroke-width="0.5"/>
<text x="289.24" y="528.15" class="t" textLength="9.52" lengthAdjust="spacingAndGlyphs">3000</text>
<line x1="315.60" x2="315.60" y1="520.7" y2="519.5" stroke="#444" stroke-width="0.5"/>
<text x="310.84" y="528.15" class="t" textLength="9.52" lengthAdjust="spacingAndGlyphs">4000</text>
<line x1="337.20" x2="337.20" y1="520.7" y2="519.5" stroke="#444" stroke-width="0.5"/>
<text x="332.44" y="528.15" class="t" textLength="9.52" lengthAdjust="spacingAndGlyphs">5000</text>
<line x1="229.3" x2="230.5" y1="453.10" y2="453.10" stroke="#444" stroke-width="0.5"/>
<text x="225.60" y="455.30" class="t2" text-anchor="end">10</text>
<text x="225.70" y="453.00" class="s">8</text>
<line x1="229.3" x2="230.5" y1="480.50" y2="480.50" stroke="#444" stroke-width="0.5"/>
<text x="225.60" y="482.70" class="t2" text-anchor="end">10</text>
<text x="225.70" y="480.40" class="s">6</text>
<line x1="229.3" x2="230.5" y1="508.10" y2="508.10" stroke="#444" stroke-width="0.5"/>
<text x="225.60" y="510.30" class="t2" text-anchor="end">10</text>
<text x="225.70" y="508.00" class="s">4</text>
<text transform="translate(217.90 498.15) rotate(-90)" class="l" textLength="38.3" lengthAdjust="spacingAndGlyphs">Average Best-so-far</text>
<text x="253.80" y="534.45" class="l" textLength="60.6" lengthAdjust="spacingAndGlyphs">Number of Function evaluations</text>
<text x="278.70" y="544.40" class="cap" text-anchor="middle">(k)</text>
</svg>
</body></html>
